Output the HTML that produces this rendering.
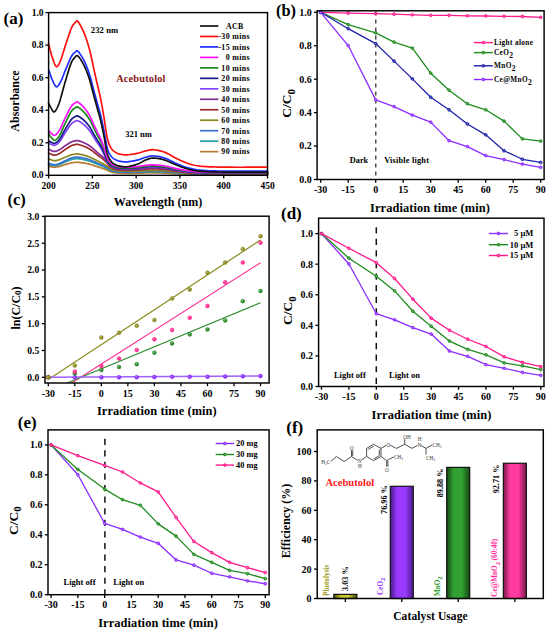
<!DOCTYPE html>
<html><head><meta charset="utf-8"><style>
html,body{margin:0;padding:0;background:#fff;}
svg{display:block;}
text{font-family:"Liberation Serif", serif;}
</style></head><body>
<svg width="550" height="631" viewBox="0 0 550 631">
<rect x="0" y="0" width="550" height="631" fill="#fff"/>
<polyline points="48.6,166.19 48.76,166.22 48.97,166.27 49.21,166.32 49.48,166.38 49.77,166.45 50.08,166.51 50.4,166.58 50.72,166.64 51.05,166.7 51.36,166.75 51.66,166.81 51.97,166.87 52.28,166.93 52.6,166.99 52.93,167.04 53.26,167.09 53.61,167.13 53.96,167.16 54.34,167.17 54.73,167.17 55.14,167.14 55.56,167.11 55.99,167.06 56.44,167.01 56.9,166.94 57.37,166.86 57.85,166.77 58.35,166.67 58.85,166.55 59.37,166.43 59.9,166.3 60.46,166.14 61.02,165.97 61.61,165.78 62.2,165.59 62.79,165.39 63.39,165.19 63.99,165 64.59,164.81 65.17,164.63 65.76,164.45 66.36,164.27 66.97,164.08 67.58,163.9 68.19,163.72 68.78,163.55 69.37,163.38 69.93,163.23 70.47,163.09 70.97,162.97 71.45,162.86 71.89,162.78 72.32,162.7 72.73,162.64 73.12,162.59 73.49,162.55 73.86,162.51 74.22,162.47 74.57,162.44 74.92,162.41 75.24,162.37 75.52,162.34 75.78,162.31 76.02,162.28 76.26,162.25 76.51,162.24 76.79,162.23 77.11,162.24 77.49,162.25 77.93,162.28 78.45,162.33 79.03,162.39 79.67,162.46 80.34,162.54 81.05,162.64 81.77,162.73 82.49,162.84 83.2,162.95 83.89,163.06 84.55,163.17 85.18,163.28 85.82,163.4 86.45,163.52 87.07,163.65 87.7,163.78 88.31,163.92 88.91,164.06 89.5,164.2 90.09,164.35 90.65,164.5 91.21,164.65 91.75,164.81 92.29,164.98 92.81,165.15 93.32,165.33 93.83,165.5 94.32,165.67 94.8,165.84 95.28,166 95.74,166.16 96.19,166.3 96.63,166.45 97.05,166.59 97.47,166.72 97.87,166.85 98.27,166.98 98.66,167.11 99.05,167.24 99.43,167.36 99.81,167.48 100.19,167.6 100.56,167.71 100.92,167.82 101.27,167.93 101.62,168.03 101.97,168.13 102.32,168.24 102.67,168.35 103.02,168.47 103.37,168.59 103.73,168.72 104.08,168.85 104.42,168.98 104.77,169.12 105.12,169.26 105.47,169.41 105.83,169.55 106.19,169.71 106.56,169.87 106.93,170.03 107.32,170.2 107.72,170.39 108.12,170.59 108.53,170.8 108.94,171.01 109.35,171.21 109.77,171.41 110.18,171.59 110.59,171.76 111,171.91 111.41,172.04 111.8,172.15 112.19,172.25 112.58,172.34 112.98,172.42 113.37,172.49 113.78,172.56 114.2,172.62 114.63,172.68 115.07,172.74 115.54,172.8 116.01,172.85 116.49,172.89 116.99,172.94 117.49,172.97 118.01,173.01 118.53,173.04 119.06,173.07 119.61,173.1 120.16,173.13 120.75,173.15 121.4,173.18 122.08,173.2 122.77,173.22 123.46,173.24 124.13,173.25 124.77,173.27 125.35,173.28 125.85,173.29 126.27,173.3 126.54,173.31 126.66,173.32 126.68,173.33 126.63,173.34 126.56,173.35 126.51,173.35 126.53,173.35 126.66,173.35 126.93,173.35 127.4,173.35 128.09,173.34 128.95,173.33 129.95,173.32 131.06,173.3 132.24,173.29 133.45,173.27 134.66,173.25 135.83,173.23 136.92,173.21 137.91,173.19 138.81,173.17 139.66,173.15 140.47,173.13 141.25,173.1 142.02,173.08 142.77,173.05 143.51,173.03 144.26,173.01 145.02,172.98 145.79,172.97 146.56,172.95 147.31,172.93 148.05,172.91 148.78,172.9 149.51,172.88 150.27,172.87 151.05,172.86 151.87,172.86 152.74,172.86 153.67,172.86 154.67,172.87 155.72,172.88 156.83,172.9 157.97,172.92 159.14,172.94 160.33,172.97 161.53,173 162.72,173.03 163.9,173.06 165.05,173.1 166.19,173.15 167.32,173.2 168.44,173.25 169.57,173.31 170.69,173.37 171.82,173.44 172.96,173.5 174.11,173.56 175.26,173.62 176.44,173.67 177.62,173.73 178.82,173.78 180.02,173.83 181.24,173.89 182.46,173.94 183.69,173.99 184.93,174.04 186.17,174.08 187.43,174.12 188.7,174.16 189.93,174.2 191.13,174.23 192.3,174.26 193.47,174.28 194.66,174.31 195.9,174.33 197.22,174.35 198.63,174.37 200.16,174.39 201.83,174.41 203.57,174.42 205.3,174.43 207.06,174.44 208.9,174.45 210.86,174.46 212.97,174.47 215.27,174.47 217.8,174.48 220.61,174.48 223.72,174.49 227.41,174.49 231.78,174.49 236.62,174.49 241.76,174.49 246.98,174.49 252.09,174.49 256.89,174.49 261.2,174.49 264.8,174.49 267.5,174.49" fill="none" stroke="#b87a30" stroke-width="1.7" stroke-linejoin="round" stroke-linecap="round"/>
<polyline points="48.6,164.56 48.76,164.6 48.97,164.64 49.21,164.69 49.48,164.76 49.77,164.82 50.08,164.89 50.4,164.95 50.72,165.02 51.05,165.08 51.36,165.13 51.66,165.18 51.97,165.24 52.28,165.31 52.6,165.37 52.93,165.43 53.26,165.48 53.61,165.53 53.96,165.55 54.34,165.56 54.73,165.54 55.14,165.5 55.56,165.45 55.99,165.38 56.44,165.3 56.9,165.21 57.37,165.1 57.85,164.98 58.35,164.84 58.85,164.68 59.37,164.51 59.9,164.32 60.46,164.1 61.02,163.86 61.61,163.6 62.2,163.33 62.79,163.05 63.39,162.78 63.99,162.5 64.59,162.24 65.17,161.98 65.76,161.74 66.36,161.48 66.97,161.22 67.58,160.97 68.19,160.71 68.78,160.47 69.37,160.24 69.93,160.02 70.47,159.83 70.97,159.66 71.45,159.52 71.89,159.4 72.32,159.29 72.73,159.21 73.12,159.13 73.49,159.07 73.86,159.02 74.22,158.97 74.57,158.92 74.92,158.88 75.24,158.83 75.52,158.78 75.78,158.74 76.02,158.7 76.26,158.67 76.51,158.65 76.79,158.64 77.11,158.65 77.49,158.67 77.93,158.7 78.45,158.76 79.03,158.83 79.67,158.92 80.34,159.02 81.05,159.14 81.77,159.26 82.49,159.39 83.2,159.52 83.89,159.66 84.55,159.8 85.18,159.94 85.82,160.08 86.45,160.24 87.07,160.39 87.7,160.56 88.31,160.73 88.91,160.9 89.5,161.07 90.09,161.25 90.65,161.44 91.21,161.63 91.75,161.83 92.29,162.04 92.81,162.25 93.32,162.46 93.83,162.68 94.32,162.89 94.8,163.1 95.28,163.3 95.74,163.49 96.19,163.67 96.63,163.85 97.05,164.02 97.47,164.19 97.87,164.35 98.27,164.51 98.66,164.67 99.05,164.82 99.43,164.98 99.81,165.13 100.19,165.27 100.56,165.41 100.92,165.55 101.27,165.67 101.62,165.8 101.97,165.93 102.32,166.06 102.67,166.2 103.02,166.34 103.37,166.49 103.73,166.65 104.08,166.82 104.42,166.98 104.77,167.15 105.12,167.32 105.47,167.5 105.83,167.69 106.19,167.87 106.56,168.07 106.93,168.27 107.32,168.49 107.72,168.72 108.12,168.97 108.53,169.22 108.94,169.48 109.35,169.73 109.77,169.98 110.18,170.2 110.59,170.41 111,170.59 111.41,170.75 111.8,170.89 112.19,171.01 112.58,171.12 112.98,171.22 113.37,171.31 113.78,171.39 114.2,171.47 114.63,171.55 115.07,171.62 115.54,171.69 116.01,171.75 116.49,171.81 116.99,171.86 117.49,171.91 118.01,171.95 118.53,171.99 119.06,172.03 119.61,172.06 120.16,172.1 120.75,172.13 121.4,172.16 122.08,172.19 122.77,172.21 123.46,172.23 124.13,172.25 124.77,172.27 125.35,172.29 125.85,172.3 126.27,172.32 126.54,172.33 126.66,172.34 126.68,172.35 126.63,172.36 126.56,172.37 126.51,172.38 126.53,172.38 126.66,172.38 126.93,172.38 127.4,172.37 128.09,172.36 128.95,172.35 129.95,172.33 131.06,172.31 132.24,172.29 133.45,172.27 134.66,172.24 135.83,172.21 136.92,172.19 137.91,172.16 138.81,172.14 139.66,172.11 140.47,172.08 141.25,172.04 142.02,172.01 142.77,171.98 143.51,171.94 144.26,171.92 145.02,171.89 145.79,171.86 146.56,171.84 147.31,171.82 148.05,171.79 148.78,171.77 149.51,171.75 150.27,171.74 151.05,171.72 151.87,171.72 152.74,171.71 153.67,171.72 154.67,171.73 155.72,171.75 156.83,171.77 157.97,171.8 159.14,171.83 160.33,171.87 161.53,171.91 162.72,171.96 163.9,172.01 165.05,172.06 166.19,172.12 167.32,172.19 168.44,172.27 169.57,172.35 170.69,172.44 171.82,172.53 172.96,172.61 174.11,172.7 175.26,172.78 176.44,172.86 177.62,172.93 178.82,173.01 180.02,173.08 181.24,173.16 182.46,173.23 183.69,173.3 184.93,173.37 186.17,173.43 187.43,173.49 188.7,173.54 189.93,173.59 191.13,173.64 192.3,173.68 193.47,173.72 194.66,173.75 195.9,173.78 197.22,173.81 198.63,173.84 200.16,173.86 201.83,173.88 203.57,173.91 205.3,173.92 207.06,173.94 208.9,173.95 210.86,173.96 212.97,173.97 215.27,173.98 217.8,173.99 220.61,173.99 223.72,174 227.41,174 231.78,174.01 236.62,174.01 241.76,174.01 246.98,174.01 252.09,174 256.89,174 261.2,174 264.8,174 267.5,174" fill="none" stroke="#20a0a0" stroke-width="1.7" stroke-linejoin="round" stroke-linecap="round"/>
<polyline points="48.6,163.42 48.76,163.47 48.97,163.53 49.21,163.6 49.48,163.68 49.77,163.77 50.08,163.85 50.4,163.94 50.72,164.03 51.05,164.11 51.36,164.18 51.66,164.25 51.97,164.33 52.28,164.41 52.6,164.49 52.93,164.57 53.26,164.64 53.61,164.69 53.96,164.73 54.34,164.74 54.73,164.72 55.14,164.69 55.56,164.63 55.99,164.56 56.44,164.47 56.9,164.36 57.37,164.24 57.85,164.1 58.35,163.94 58.85,163.77 59.37,163.58 59.9,163.36 60.46,163.12 61.02,162.85 61.61,162.56 62.2,162.25 62.79,161.94 63.39,161.63 63.99,161.33 64.59,161.03 65.17,160.75 65.76,160.47 66.36,160.19 66.97,159.9 67.58,159.61 68.19,159.33 68.78,159.05 69.37,158.79 69.93,158.55 70.47,158.34 70.97,158.15 71.45,157.99 71.89,157.85 72.32,157.74 72.73,157.64 73.12,157.56 73.49,157.49 73.86,157.43 74.22,157.37 74.57,157.32 74.92,157.27 75.24,157.22 75.52,157.16 75.78,157.12 76.02,157.08 76.26,157.04 76.51,157.02 76.79,157.01 77.11,157.02 77.49,157.04 77.93,157.08 78.45,157.14 79.03,157.22 79.67,157.32 80.34,157.43 81.05,157.55 81.77,157.69 82.49,157.83 83.2,157.98 83.89,158.12 84.55,158.28 85.18,158.43 85.82,158.59 86.45,158.76 87.07,158.93 87.7,159.11 88.31,159.29 88.91,159.48 89.5,159.67 90.09,159.87 90.65,160.07 91.21,160.28 91.75,160.5 92.29,160.73 92.81,160.96 93.32,161.19 93.83,161.43 94.32,161.66 94.8,161.89 95.28,162.11 95.74,162.32 96.19,162.52 96.63,162.71 97.05,162.9 97.47,163.08 97.87,163.26 98.27,163.44 98.66,163.61 99.05,163.78 99.43,163.95 99.81,164.11 100.19,164.27 100.56,164.42 100.92,164.57 101.27,164.71 101.62,164.85 101.97,164.99 102.32,165.14 102.67,165.29 103.02,165.44 103.37,165.61 103.73,165.78 104.08,165.96 104.42,166.14 104.77,166.33 105.12,166.52 105.47,166.71 105.83,166.91 106.19,167.12 106.56,167.33 106.93,167.56 107.32,167.79 107.72,168.05 108.12,168.32 108.53,168.6 108.94,168.88 109.35,169.16 109.77,169.42 110.18,169.67 110.59,169.9 111,170.1 111.41,170.27 111.8,170.43 112.19,170.56 112.58,170.68 112.98,170.79 113.37,170.89 113.78,170.97 114.2,171.06 114.63,171.14 115.07,171.22 115.54,171.3 116.01,171.37 116.49,171.43 116.99,171.49 117.49,171.54 118.01,171.59 118.53,171.63 119.06,171.67 119.61,171.71 120.16,171.75 120.75,171.78 121.4,171.82 122.08,171.85 122.77,171.87 123.46,171.9 124.13,171.92 124.77,171.94 125.35,171.95 125.85,171.97 126.27,171.99 126.54,172 126.66,172.01 126.68,172.03 126.63,172.04 126.56,172.05 126.51,172.05 126.53,172.06 126.66,172.06 126.93,172.05 127.4,172.05 128.09,172.03 128.95,172.02 129.95,172 131.06,171.97 132.24,171.94 133.45,171.91 134.66,171.88 135.83,171.85 136.92,171.82 137.91,171.79 138.81,171.75 139.66,171.72 140.47,171.68 141.25,171.63 142.02,171.59 142.77,171.55 143.51,171.51 144.26,171.48 145.02,171.44 145.79,171.41 146.56,171.38 147.31,171.35 148.05,171.32 148.78,171.3 149.51,171.27 150.27,171.25 151.05,171.24 151.87,171.23 152.74,171.23 153.67,171.23 154.67,171.25 155.72,171.27 156.83,171.3 157.97,171.33 159.14,171.37 160.33,171.41 161.53,171.46 162.72,171.52 163.9,171.58 165.05,171.65 166.19,171.72 167.32,171.81 168.44,171.9 169.57,172 170.69,172.11 171.82,172.21 172.96,172.32 174.11,172.42 175.26,172.52 176.44,172.62 177.62,172.71 178.82,172.8 180.02,172.89 181.24,172.98 182.46,173.06 183.69,173.15 184.93,173.23 186.17,173.31 187.43,173.38 188.7,173.45 189.93,173.5 191.13,173.56 192.3,173.61 193.47,173.65 194.66,173.7 195.9,173.73 197.22,173.77 198.63,173.8 200.16,173.83 201.83,173.86 203.57,173.89 205.3,173.91 207.06,173.93 208.9,173.94 210.86,173.96 212.97,173.97 215.27,173.98 217.8,173.98 220.61,173.99 223.72,174 227.41,174 231.78,174.01 236.62,174.01 241.76,174.01 246.98,174.01 252.09,174.01 256.89,174 261.2,174 264.8,174 267.5,174" fill="none" stroke="#3a70d0" stroke-width="1.7" stroke-linejoin="round" stroke-linecap="round"/>
<polyline points="48.6,158.7 48.76,158.77 48.97,158.86 49.21,158.97 49.48,159.09 49.77,159.22 50.08,159.35 50.4,159.48 50.72,159.61 51.05,159.73 51.36,159.84 51.66,159.94 51.97,160.05 52.28,160.16 52.6,160.27 52.93,160.38 53.26,160.48 53.61,160.55 53.96,160.61 54.34,160.65 54.73,160.66 55.14,160.64 55.56,160.6 55.99,160.54 56.44,160.46 56.9,160.36 57.37,160.25 57.85,160.12 58.35,159.98 58.85,159.82 59.37,159.66 59.9,159.47 60.46,159.25 61.02,159.02 61.61,158.77 62.2,158.5 62.79,158.23 63.39,157.96 63.99,157.69 64.59,157.43 65.17,157.19 65.76,156.95 66.36,156.7 66.97,156.45 67.58,156.19 68.19,155.95 68.78,155.71 69.37,155.48 69.93,155.27 70.47,155.09 70.97,154.92 71.45,154.78 71.89,154.66 72.32,154.56 72.73,154.48 73.12,154.41 73.49,154.34 73.86,154.29 74.22,154.24 74.57,154.2 74.92,154.15 75.24,154.11 75.52,154.06 75.78,154.01 76.02,153.97 76.26,153.94 76.51,153.91 76.79,153.9 77.11,153.91 77.49,153.94 77.93,153.99 78.45,154.06 79.03,154.15 79.67,154.26 80.34,154.39 81.05,154.54 81.77,154.69 82.49,154.85 83.2,155.02 83.89,155.19 84.55,155.37 85.18,155.54 85.82,155.73 86.45,155.92 87.07,156.12 87.7,156.33 88.31,156.54 88.91,156.75 89.5,156.98 90.09,157.2 90.65,157.44 91.21,157.68 91.75,157.93 92.29,158.19 92.81,158.46 93.32,158.73 93.83,159 94.32,159.27 94.8,159.53 95.28,159.78 95.74,160.02 96.19,160.25 96.63,160.48 97.05,160.69 97.47,160.9 97.87,161.11 98.27,161.31 98.66,161.51 99.05,161.71 99.43,161.9 99.81,162.09 100.19,162.28 100.56,162.45 100.92,162.62 101.27,162.78 101.62,162.94 101.97,163.11 102.32,163.27 102.67,163.44 103.02,163.62 103.37,163.82 103.73,164.02 104.08,164.22 104.42,164.43 104.77,164.64 105.12,164.86 105.47,165.09 105.83,165.32 106.19,165.56 106.56,165.8 106.93,166.06 107.32,166.33 107.72,166.63 108.12,166.94 108.53,167.26 108.94,167.58 109.35,167.9 109.77,168.21 110.18,168.5 110.59,168.76 111,168.99 111.41,169.19 111.8,169.37 112.19,169.52 112.58,169.66 112.98,169.78 113.37,169.89 113.78,170 114.2,170.1 114.63,170.19 115.07,170.28 115.54,170.37 116.01,170.45 116.49,170.53 116.99,170.59 117.49,170.65 118.01,170.7 118.53,170.75 119.06,170.8 119.61,170.84 120.16,170.89 120.75,170.93 121.4,170.97 122.08,171 122.77,171.03 123.46,171.06 124.13,171.08 124.77,171.11 125.35,171.13 125.85,171.15 126.27,171.16 126.54,171.18 126.66,171.2 126.68,171.21 126.63,171.22 126.56,171.23 126.51,171.24 126.53,171.24 126.66,171.24 126.93,171.24 127.4,171.23 128.09,171.22 128.95,171.2 129.95,171.18 131.06,171.16 132.24,171.13 133.45,171.1 134.66,171.07 135.83,171.04 136.92,171 137.91,170.97 138.81,170.94 139.66,170.9 140.47,170.86 141.25,170.82 142.02,170.78 142.77,170.74 143.51,170.7 144.26,170.66 145.02,170.63 145.79,170.6 146.56,170.57 147.31,170.54 148.05,170.51 148.78,170.48 149.51,170.45 150.27,170.43 151.05,170.42 151.87,170.41 152.74,170.41 153.67,170.42 154.67,170.44 155.72,170.46 156.83,170.5 157.97,170.53 159.14,170.58 160.33,170.63 161.53,170.69 162.72,170.76 163.9,170.83 165.05,170.91 166.19,171 167.32,171.1 168.44,171.21 169.57,171.32 170.69,171.45 171.82,171.57 172.96,171.7 174.11,171.82 175.26,171.94 176.44,172.05 177.62,172.15 178.82,172.26 180.02,172.37 181.24,172.47 182.46,172.57 183.69,172.67 184.93,172.77 186.17,172.86 187.43,172.95 188.7,173.02 189.93,173.09 191.13,173.16 192.3,173.21 193.47,173.27 194.66,173.32 195.9,173.36 197.22,173.4 198.63,173.44 200.16,173.48 201.83,173.51 203.57,173.54 205.3,173.57 207.06,173.59 208.9,173.61 210.86,173.62 212.97,173.64 215.27,173.65 217.8,173.66 220.61,173.66 223.72,173.67 227.41,173.68 231.78,173.68 236.62,173.68 241.76,173.68 246.98,173.68 252.09,173.68 256.89,173.68 261.2,173.68 264.8,173.67 267.5,173.67" fill="none" stroke="#8a8a1a" stroke-width="1.7" stroke-linejoin="round" stroke-linecap="round"/>
<polyline points="48.6,153.01 48.76,153.08 48.97,153.18 49.21,153.3 49.48,153.43 49.77,153.57 50.08,153.71 50.4,153.86 50.72,153.99 51.05,154.12 51.36,154.24 51.66,154.35 51.97,154.48 52.28,154.61 52.6,154.74 52.93,154.86 53.26,154.97 53.61,155.05 53.96,155.11 54.34,155.14 54.73,155.13 55.14,155.08 55.56,155 55.99,154.9 56.44,154.77 56.9,154.62 57.37,154.45 57.85,154.25 58.35,154.03 58.85,153.78 59.37,153.51 59.9,153.21 60.46,152.87 61.02,152.49 61.61,152.08 62.2,151.66 62.79,151.22 63.39,150.78 63.99,150.35 64.59,149.94 65.17,149.54 65.76,149.15 66.36,148.75 66.97,148.35 67.58,147.94 68.19,147.54 68.78,147.16 69.37,146.8 69.93,146.46 70.47,146.16 70.97,145.89 71.45,145.66 71.89,145.47 72.32,145.31 72.73,145.18 73.12,145.06 73.49,144.96 73.86,144.88 74.22,144.8 74.57,144.73 74.92,144.66 75.24,144.58 75.52,144.5 75.78,144.43 76.02,144.37 76.26,144.31 76.52,144.28 76.8,144.26 77.12,144.27 77.49,144.31 77.93,144.39 78.45,144.5 79.02,144.64 79.65,144.81 80.32,145 81.01,145.22 81.72,145.45 82.43,145.69 83.14,145.95 83.82,146.21 84.47,146.47 85.1,146.74 85.73,147.02 86.35,147.31 86.97,147.61 87.58,147.92 88.19,148.24 88.78,148.57 89.37,148.9 89.94,149.24 90.5,149.59 91.05,149.96 91.59,150.34 92.12,150.73 92.64,151.14 93.14,151.55 93.64,151.96 94.13,152.36 94.61,152.75 95.08,153.14 95.53,153.5 95.98,153.84 96.41,154.18 96.83,154.51 97.24,154.83 97.64,155.14 98.03,155.45 98.42,155.75 98.8,156.04 99.18,156.33 99.56,156.62 99.93,156.9 100.29,157.16 100.65,157.42 101,157.66 101.35,157.91 101.69,158.15 102.04,158.4 102.38,158.66 102.73,158.94 103.08,159.23 103.43,159.53 103.77,159.84 104.12,160.15 104.46,160.47 104.81,160.8 105.15,161.14 105.5,161.49 105.86,161.85 106.22,162.23 106.6,162.61 106.98,163.02 107.37,163.47 107.77,163.94 108.17,164.42 108.58,164.91 108.99,165.39 109.4,165.86 109.81,166.29 110.22,166.69 110.62,167.03 111.02,167.33 111.41,167.6 111.79,167.84 112.18,168.04 112.57,168.23 112.96,168.4 113.36,168.56 113.77,168.7 114.2,168.85 114.64,168.99 115.1,169.12 115.57,169.24 116.05,169.35 116.53,169.45 117.03,169.54 117.54,169.62 118.06,169.69 118.59,169.76 119.12,169.83 119.67,169.9 120.25,169.96 120.88,170.02 121.54,170.07 122.22,170.12 122.9,170.16 123.56,170.19 124.18,170.23 124.76,170.26 125.27,170.29 125.71,170.31 126.01,170.34 126.18,170.37 126.26,170.39 126.27,170.41 126.28,170.43 126.3,170.44 126.38,170.44 126.57,170.44 126.9,170.44 127.4,170.42 128.11,170.39 128.98,170.36 129.99,170.32 131.1,170.27 132.27,170.21 133.47,170.15 134.67,170.09 135.84,170.03 136.93,169.96 137.91,169.9 138.81,169.83 139.66,169.76 140.47,169.68 141.25,169.6 142.02,169.51 142.77,169.43 143.51,169.35 144.26,169.28 145.02,169.21 145.79,169.15 146.56,169.09 147.31,169.04 148.05,168.98 148.78,168.93 149.51,168.88 150.27,168.84 151.05,168.81 151.87,168.79 152.74,168.78 153.67,168.79 154.67,168.82 155.72,168.85 156.83,168.9 157.97,168.96 159.14,169.03 160.33,169.11 161.53,169.2 162.72,169.3 163.9,169.41 165.05,169.52 166.19,169.66 167.32,169.81 168.44,169.97 169.57,170.15 170.69,170.33 171.82,170.52 172.96,170.71 174.11,170.89 175.26,171.07 176.44,171.23 177.62,171.39 178.82,171.55 180.02,171.71 181.24,171.87 182.46,172.03 183.69,172.18 184.93,172.32 186.17,172.45 187.43,172.58 188.7,172.7 189.93,172.8 191.13,172.9 192.3,172.99 193.47,173.07 194.66,173.14 195.9,173.21 197.22,173.27 198.63,173.33 200.16,173.38 201.83,173.43 203.57,173.47 205.3,173.51 207.06,173.55 208.9,173.57 210.86,173.6 212.97,173.62 215.27,173.63 217.8,173.65 220.61,173.66 223.72,173.67 227.41,173.68 231.78,173.69 236.62,173.69 241.76,173.69 246.98,173.69 252.09,173.68 256.89,173.68 261.2,173.68 264.8,173.67 267.5,173.67" fill="none" stroke="#9a2a2a" stroke-width="1.7" stroke-linejoin="round" stroke-linecap="round"/>
<polyline points="48.6,149.27 48.76,149.34 48.97,149.44 49.21,149.56 49.48,149.69 49.77,149.83 50.08,149.97 50.4,150.11 50.72,150.25 51.05,150.38 51.36,150.49 51.66,150.61 51.97,150.73 52.28,150.86 52.6,150.99 52.93,151.12 53.26,151.22 53.61,151.31 53.96,151.37 54.34,151.4 54.73,151.38 55.14,151.33 55.56,151.26 55.99,151.16 56.44,151.03 56.9,150.88 57.37,150.71 57.85,150.51 58.35,150.29 58.85,150.04 59.37,149.77 59.9,149.47 60.46,149.12 61.02,148.74 61.61,148.34 62.2,147.91 62.79,147.48 63.39,147.04 63.99,146.61 64.59,146.19 65.17,145.8 65.76,145.41 66.36,145.01 66.97,144.6 67.58,144.2 68.19,143.8 68.78,143.42 69.37,143.06 69.93,142.72 70.47,142.41 70.97,142.15 71.45,141.92 71.89,141.73 72.32,141.57 72.73,141.43 73.12,141.32 73.49,141.22 73.86,141.14 74.22,141.06 74.57,140.99 74.92,140.91 75.24,140.84 75.52,140.76 75.78,140.68 76.02,140.61 76.26,140.56 76.52,140.52 76.8,140.5 77.12,140.52 77.49,140.56 77.93,140.64 78.45,140.77 79.02,140.92 79.65,141.11 80.32,141.33 81.01,141.57 81.72,141.83 82.43,142.1 83.14,142.38 83.82,142.67 84.47,142.96 85.1,143.26 85.73,143.57 86.35,143.89 86.97,144.23 87.58,144.57 88.19,144.93 88.78,145.29 89.37,145.67 89.94,146.05 90.5,146.44 91.05,146.84 91.59,147.26 92.12,147.7 92.64,148.15 93.14,148.61 93.64,149.06 94.13,149.51 94.61,149.95 95.08,150.38 95.53,150.78 95.98,151.17 96.41,151.54 96.83,151.91 97.24,152.26 97.64,152.61 98.03,152.95 98.42,153.28 98.8,153.61 99.18,153.94 99.56,154.26 99.93,154.57 100.29,154.86 100.65,155.14 101,155.41 101.35,155.69 101.69,155.96 102.04,156.24 102.38,156.53 102.73,156.83 103.08,157.15 103.43,157.49 103.77,157.83 104.12,158.18 104.46,158.54 104.81,158.91 105.15,159.29 105.5,159.68 105.86,160.08 106.22,160.49 106.6,160.92 106.98,161.38 107.37,161.87 107.77,162.4 108.17,162.94 108.58,163.48 108.99,164.01 109.4,164.53 109.81,165.01 110.22,165.45 110.62,165.84 111.02,166.17 111.41,166.47 111.79,166.73 112.18,166.96 112.57,167.17 112.96,167.36 113.36,167.53 113.77,167.7 114.2,167.85 114.64,168.01 115.1,168.16 115.57,168.3 116.05,168.42 116.53,168.53 117.03,168.63 117.54,168.72 118.06,168.8 118.59,168.88 119.12,168.95 119.67,169.03 120.25,169.1 120.88,169.16 121.54,169.22 122.22,169.27 122.9,169.31 123.56,169.36 124.18,169.39 124.76,169.43 125.27,169.46 125.71,169.49 126.01,169.52 126.18,169.55 126.26,169.57 126.27,169.59 126.28,169.61 126.3,169.62 126.38,169.63 126.57,169.63 126.9,169.62 127.4,169.61 128.11,169.58 128.98,169.55 129.99,169.5 131.1,169.45 132.27,169.4 133.47,169.34 134.67,169.28 135.84,169.21 136.93,169.15 137.91,169.08 138.81,169.02 139.66,168.94 140.47,168.86 141.25,168.78 142.02,168.7 142.77,168.62 143.51,168.54 144.26,168.46 145.02,168.4 145.79,168.34 146.56,168.28 147.31,168.22 148.05,168.16 148.78,168.11 149.51,168.06 150.27,168.02 151.05,167.99 151.87,167.97 152.74,167.97 153.67,167.98 154.67,168.01 155.72,168.05 156.83,168.1 157.97,168.17 159.14,168.24 160.33,168.33 161.53,168.43 162.72,168.54 163.9,168.65 165.05,168.78 166.19,168.93 167.32,169.1 168.44,169.28 169.57,169.47 170.69,169.67 171.82,169.88 172.96,170.09 174.11,170.29 175.26,170.48 176.44,170.66 177.62,170.84 178.82,171.02 180.02,171.19 181.24,171.37 182.46,171.54 183.69,171.7 184.93,171.86 186.17,172.01 187.43,172.15 188.7,172.27 189.93,172.39 191.13,172.49 192.3,172.59 193.47,172.68 194.66,172.76 195.9,172.83 197.22,172.9 198.63,172.97 200.16,173.02 201.83,173.08 203.57,173.13 205.3,173.17 207.06,173.21 208.9,173.24 210.86,173.26 212.97,173.29 215.27,173.3 217.8,173.32 220.61,173.33 223.72,173.35 227.41,173.36 231.78,173.36 236.62,173.37 241.76,173.37 246.98,173.36 252.09,173.36 256.89,173.36 261.2,173.35 264.8,173.35 267.5,173.35" fill="none" stroke="#852a95" stroke-width="1.7" stroke-linejoin="round" stroke-linecap="round"/>
<polyline points="48.6,143.25 48.77,143.32 48.98,143.41 49.23,143.51 49.51,143.63 49.82,143.76 50.14,143.9 50.48,144.03 50.81,144.16 51.15,144.27 51.48,144.38 51.8,144.5 52.12,144.64 52.45,144.79 52.79,144.95 53.13,145.09 53.48,145.21 53.84,145.29 54.21,145.33 54.59,145.3 54.99,145.2 55.4,145.04 55.82,144.84 56.25,144.6 56.69,144.32 57.15,143.99 57.61,143.61 58.09,143.17 58.57,142.69 59.07,142.14 59.58,141.54 60.11,140.85 60.65,140.07 61.22,139.2 61.79,138.28 62.38,137.31 62.97,136.33 63.56,135.33 64.15,134.35 64.74,133.41 65.32,132.51 65.9,131.63 66.49,130.72 67.09,129.79 67.7,128.87 68.3,127.97 68.89,127.1 69.46,126.27 70.02,125.51 70.55,124.82 71.05,124.21 71.52,123.7 71.96,123.26 72.38,122.9 72.79,122.59 73.17,122.33 73.54,122.11 73.91,121.91 74.26,121.74 74.61,121.57 74.95,121.41 75.27,121.24 75.56,121.07 75.82,120.92 76.07,120.79 76.31,120.69 76.57,120.61 76.85,120.58 77.16,120.6 77.52,120.67 77.93,120.8 78.41,120.99 78.94,121.25 79.52,121.56 80.13,121.92 80.76,122.32 81.4,122.75 82.05,123.2 82.69,123.67 83.31,124.15 83.9,124.64 84.47,125.13 85.05,125.64 85.62,126.18 86.18,126.73 86.74,127.31 87.29,127.9 87.84,128.5 88.37,129.12 88.9,129.75 89.41,130.39 89.91,131.06 90.4,131.77 90.88,132.49 91.36,133.24 91.82,133.99 92.27,134.75 92.72,135.49 93.16,136.22 93.58,136.93 94,137.59 94.41,138.23 94.8,138.85 95.18,139.46 95.56,140.05 95.92,140.62 96.28,141.19 96.63,141.74 96.98,142.29 97.33,142.82 97.67,143.35 98.01,143.87 98.35,144.35 98.67,144.82 98.99,145.27 99.31,145.72 99.62,146.18 99.94,146.64 100.25,147.12 100.57,147.62 100.89,148.15 101.21,148.71 101.52,149.28 101.84,149.86 102.15,150.45 102.47,151.06 102.78,151.69 103.1,152.33 103.43,153 103.76,153.68 104.1,154.39 104.45,155.15 104.81,155.98 105.17,156.84 105.54,157.74 105.91,158.64 106.28,159.52 106.66,160.38 107.03,161.18 107.4,161.91 107.77,162.55 108.14,163.11 108.49,163.59 108.85,164.03 109.2,164.41 109.55,164.76 109.91,165.07 110.28,165.36 110.65,165.63 111.04,165.89 111.45,166.15 111.86,166.4 112.29,166.63 112.73,166.83 113.17,167.01 113.63,167.17 114.09,167.32 114.56,167.46 115.05,167.59 115.54,167.71 116.04,167.83 116.55,167.95 117.08,168.05 117.61,168.15 118.16,168.23 118.71,168.31 119.27,168.38 119.84,168.44 120.41,168.5 120.98,168.55 121.55,168.6 122.1,168.65 122.62,168.69 123.13,168.73 123.64,168.76 124.16,168.78 124.71,168.8 125.29,168.81 125.93,168.82 126.63,168.81 127.4,168.79 128.28,168.76 129.25,168.72 130.3,168.67 131.4,168.61 132.53,168.55 133.67,168.48 134.81,168.4 135.9,168.32 136.95,168.24 137.91,168.17 138.81,168.09 139.66,168 140.47,167.9 141.25,167.81 142.02,167.71 142.77,167.61 143.51,167.51 144.26,167.42 145.02,167.34 145.79,167.27 146.56,167.2 147.31,167.13 148.05,167.06 148.78,167 149.51,166.94 150.27,166.89 151.05,166.85 151.87,166.83 152.74,166.83 153.67,166.84 154.67,166.87 155.72,166.92 156.83,166.98 157.97,167.05 159.14,167.14 160.33,167.24 161.53,167.36 162.72,167.48 163.9,167.62 165.05,167.77 166.19,167.93 167.32,168.13 168.44,168.34 169.57,168.56 170.69,168.79 171.82,169.03 172.96,169.27 174.11,169.5 175.26,169.72 176.44,169.93 177.62,170.13 178.82,170.34 180.02,170.54 181.24,170.74 182.46,170.94 183.69,171.13 184.93,171.31 186.17,171.48 187.43,171.64 188.7,171.79 189.93,171.92 191.13,172.04 192.3,172.15 193.47,172.25 194.66,172.35 195.9,172.43 197.22,172.51 198.63,172.58 200.16,172.65 201.83,172.71 203.57,172.77 205.3,172.82 207.06,172.86 208.9,172.9 210.86,172.93 212.97,172.95 215.27,172.97 217.8,172.99 220.61,173.01 223.72,173.02 227.41,173.03 231.78,173.04 236.62,173.04 241.76,173.04 246.98,173.04 252.09,173.04 256.89,173.03 261.2,173.03 264.8,173.02 267.5,173.02" fill="none" stroke="#8040ff" stroke-width="1.7" stroke-linejoin="round" stroke-linecap="round"/>
<polyline points="48.6,140.97 48.77,141.05 48.98,141.16 49.23,141.28 49.51,141.42 49.82,141.57 50.14,141.73 50.48,141.88 50.81,142.03 51.15,142.17 51.48,142.29 51.8,142.42 52.12,142.59 52.45,142.76 52.79,142.94 53.13,143.11 53.48,143.25 53.84,143.34 54.21,143.38 54.59,143.36 54.99,143.25 55.4,143.07 55.82,142.85 56.25,142.58 56.69,142.27 57.15,141.9 57.61,141.47 58.09,140.99 58.57,140.45 59.07,139.84 59.58,139.17 60.11,138.41 60.65,137.53 61.22,136.57 61.79,135.54 62.38,134.47 62.97,133.37 63.56,132.26 64.15,131.17 64.74,130.12 65.32,129.12 65.9,128.13 66.49,127.12 67.09,126.1 67.7,125.07 68.3,124.07 68.89,123.1 69.46,122.18 70.02,121.32 70.55,120.55 71.05,119.88 71.52,119.31 71.96,118.83 72.38,118.42 72.79,118.07 73.17,117.78 73.54,117.54 73.91,117.32 74.26,117.13 74.61,116.94 74.95,116.76 75.27,116.57 75.56,116.39 75.82,116.22 76.07,116.07 76.31,115.96 76.57,115.88 76.85,115.85 77.16,115.86 77.52,115.94 77.93,116.08 78.41,116.29 78.94,116.57 79.52,116.91 80.13,117.3 80.76,117.74 81.4,118.21 82.05,118.7 82.69,119.22 83.31,119.74 83.9,120.27 84.47,120.81 85.05,121.37 85.62,121.95 86.18,122.56 86.74,123.18 87.29,123.83 87.84,124.49 88.37,125.16 88.9,125.85 89.41,126.56 89.91,127.28 90.4,128.05 90.88,128.85 91.36,129.66 91.82,130.48 92.27,131.31 92.72,132.12 93.16,132.92 93.58,133.68 94,134.41 94.41,135.11 94.8,135.79 95.18,136.45 95.56,137.09 95.92,137.72 96.28,138.34 96.63,138.94 96.98,139.54 97.33,140.12 97.67,140.7 98.01,141.26 98.35,141.79 98.67,142.3 98.99,142.8 99.31,143.29 99.62,143.78 99.94,144.28 100.25,144.81 100.57,145.36 100.89,145.94 101.21,146.55 101.52,147.17 101.84,147.8 102.15,148.45 102.47,149.12 102.78,149.8 103.1,150.5 103.43,151.23 103.76,151.98 104.1,152.75 104.45,153.58 104.81,154.48 105.17,155.42 105.54,156.4 105.91,157.38 106.28,158.35 106.66,159.28 107.03,160.16 107.4,160.96 107.77,161.66 108.14,162.26 108.49,162.79 108.85,163.27 109.2,163.69 109.55,164.06 109.91,164.4 110.28,164.72 110.65,165.01 111.04,165.3 111.45,165.59 111.86,165.86 112.29,166.1 112.73,166.32 113.17,166.52 113.63,166.7 114.09,166.86 114.56,167.01 115.05,167.15 115.54,167.29 116.04,167.42 116.55,167.55 117.08,167.66 117.61,167.76 118.16,167.86 118.71,167.94 119.27,168.01 119.84,168.08 120.41,168.15 120.98,168.2 121.55,168.26 122.1,168.31 122.62,168.35 123.13,168.39 123.64,168.43 124.16,168.46 124.71,168.48 125.29,168.49 125.93,168.49 126.63,168.48 127.4,168.47 128.28,168.44 129.25,168.39 130.3,168.34 131.4,168.27 132.53,168.2 133.67,168.12 134.81,168.04 135.9,167.96 136.95,167.87 137.91,167.79 138.81,167.7 139.66,167.61 140.47,167.5 141.25,167.4 142.02,167.29 142.77,167.18 143.51,167.08 144.26,166.98 145.02,166.89 145.79,166.82 146.56,166.74 147.31,166.67 148.05,166.59 148.78,166.52 149.51,166.46 150.27,166.41 151.05,166.37 151.87,166.34 152.74,166.34 153.67,166.35 154.67,166.38 155.72,166.43 156.83,166.5 157.97,166.58 159.14,166.67 160.33,166.77 161.53,166.89 162.72,167.03 163.9,167.17 165.05,167.33 166.19,167.5 167.32,167.71 168.44,167.93 169.57,168.16 170.69,168.41 171.82,168.66 172.96,168.91 174.11,169.15 175.26,169.39 176.44,169.61 177.62,169.82 178.82,170.03 180.02,170.25 181.24,170.46 182.46,170.66 183.69,170.86 184.93,171.05 186.17,171.24 187.43,171.4 188.7,171.56 189.93,171.7 191.13,171.83 192.3,171.94 193.47,172.05 194.66,172.15 195.9,172.24 197.22,172.32 198.63,172.4 200.16,172.47 201.83,172.53 203.57,172.59 205.3,172.65 207.06,172.69 208.9,172.73 210.86,172.76 212.97,172.78 215.27,172.81 217.8,172.83 220.61,172.84 223.72,172.86 227.41,172.87 231.78,172.88 236.62,172.88 241.76,172.88 246.98,172.88 252.09,172.88 256.89,172.87 261.2,172.86 264.8,172.86 267.5,172.86" fill="none" stroke="#1a1a8a" stroke-width="1.7" stroke-linejoin="round" stroke-linecap="round"/>
<polyline points="48.6,133.81 48.77,134.04 48.98,134.34 49.23,134.7 49.51,135.1 49.82,135.53 50.14,135.97 50.48,136.41 50.81,136.84 51.15,137.23 51.48,137.59 51.8,137.94 52.12,138.32 52.45,138.73 52.79,139.12 53.13,139.5 53.48,139.83 53.84,140.1 54.21,140.28 54.59,140.36 54.99,140.32 55.4,140.17 55.82,139.93 56.25,139.62 56.69,139.23 57.15,138.77 57.61,138.23 58.09,137.61 58.57,136.93 59.07,136.17 59.58,135.34 60.11,134.4 60.65,133.34 61.22,132.16 61.79,130.91 62.38,129.59 62.97,128.25 63.56,126.9 64.15,125.57 64.74,124.28 65.32,123.06 65.9,121.86 66.49,120.62 67.09,119.37 67.7,118.12 68.3,116.89 68.89,115.7 69.46,114.58 70.02,113.54 70.55,112.6 71.05,111.78 71.52,111.08 71.96,110.49 72.38,109.99 72.79,109.57 73.17,109.21 73.54,108.91 73.91,108.65 74.26,108.41 74.61,108.19 74.95,107.96 75.27,107.73 75.56,107.51 75.82,107.31 76.07,107.14 76.31,107 76.57,106.91 76.85,106.86 77.16,106.88 77.52,106.97 77.93,107.13 78.41,107.37 78.94,107.7 79.52,108.09 80.13,108.55 80.76,109.05 81.4,109.6 82.05,110.18 82.69,110.78 83.31,111.39 83.9,112 84.47,112.62 85.05,113.27 85.62,113.95 86.18,114.65 86.74,115.38 87.29,116.13 87.84,116.9 88.37,117.68 88.9,118.48 89.41,119.3 89.91,120.15 90.4,121.04 90.88,121.96 91.36,122.91 91.82,123.86 92.27,124.82 92.72,125.76 93.16,126.69 93.58,127.58 94,128.43 94.41,129.24 94.8,130.02 95.18,130.79 95.56,131.54 95.92,132.27 96.28,132.98 96.63,133.68 96.98,134.37 97.33,135.06 97.67,135.73 98.01,136.38 98.35,136.99 98.67,137.59 98.99,138.16 99.31,138.73 99.62,139.31 99.94,139.89 100.25,140.5 100.57,141.14 100.89,141.81 101.21,142.52 101.52,143.24 101.84,143.98 102.15,144.73 102.47,145.5 102.78,146.3 103.1,147.11 103.43,147.96 103.76,148.83 104.1,149.72 104.45,150.69 104.81,151.73 105.17,152.83 105.54,153.96 105.91,155.1 106.28,156.23 106.66,157.31 107.03,158.33 107.4,159.26 107.77,160.07 108.14,160.77 108.49,161.39 108.85,161.94 109.2,162.43 109.55,162.86 109.91,163.26 110.28,163.62 110.65,163.97 111.04,164.3 111.45,164.63 111.86,164.95 112.29,165.23 112.73,165.49 113.17,165.71 113.63,165.92 114.09,166.11 114.56,166.28 115.05,166.45 115.54,166.61 116.04,166.76 116.55,166.91 117.08,167.04 117.61,167.16 118.16,167.27 118.71,167.37 119.27,167.45 119.84,167.53 120.41,167.61 120.98,167.67 121.55,167.74 122.1,167.79 122.62,167.85 123.13,167.89 123.64,167.93 124.16,167.96 124.71,167.98 125.29,168 125.93,168 126.63,167.99 127.4,167.98 128.28,167.95 129.25,167.91 130.3,167.85 131.4,167.79 132.53,167.72 133.67,167.64 134.81,167.56 135.9,167.47 136.95,167.39 137.91,167.3 138.81,167.21 139.66,167.12 140.47,167.02 141.25,166.91 142.02,166.8 142.77,166.7 143.51,166.59 144.26,166.5 145.02,166.41 145.79,166.33 146.56,166.25 147.31,166.18 148.05,166.1 148.78,166.03 149.51,165.97 150.27,165.92 151.05,165.88 151.87,165.85 152.74,165.85 153.67,165.86 154.67,165.9 155.72,165.95 156.83,166.02 157.97,166.1 159.14,166.2 160.33,166.31 161.53,166.43 162.72,166.57 163.9,166.72 165.05,166.89 166.19,167.07 167.32,167.28 168.44,167.52 169.57,167.76 170.69,168.02 171.82,168.28 172.96,168.54 174.11,168.8 175.26,169.05 176.44,169.28 177.62,169.5 178.82,169.73 180.02,169.95 181.24,170.17 182.46,170.39 183.69,170.6 184.93,170.8 186.17,170.99 187.43,171.17 188.7,171.33 189.93,171.48 191.13,171.61 192.3,171.73 193.47,171.85 194.66,171.95 195.9,172.04 197.22,172.13 198.63,172.21 200.16,172.28 201.83,172.36 203.57,172.42 205.3,172.47 207.06,172.52 208.9,172.56 210.86,172.59 212.97,172.62 215.27,172.64 217.8,172.66 220.61,172.68 223.72,172.7 227.41,172.71 231.78,172.72 236.62,172.72 241.76,172.72 246.98,172.72 252.09,172.71 256.89,172.71 261.2,172.7 264.8,172.7 267.5,172.7" fill="none" stroke="#158a15" stroke-width="1.7" stroke-linejoin="round" stroke-linecap="round"/>
<polyline points="48.6,130.56 48.76,130.72 48.97,130.94 49.21,131.2 49.48,131.49 49.77,131.8 50.08,132.12 50.4,132.44 50.72,132.75 51.05,133.04 51.36,133.29 51.66,133.55 51.97,133.85 52.28,134.16 52.6,134.47 52.93,134.77 53.26,135.02 53.61,135.21 53.96,135.34 54.34,135.36 54.73,135.28 55.14,135.09 55.56,134.85 55.99,134.53 56.44,134.14 56.9,133.69 57.37,133.16 57.85,132.56 58.35,131.89 58.85,131.14 59.37,130.32 59.9,129.39 60.46,128.33 61.02,127.16 61.61,125.91 62.2,124.6 62.79,123.27 63.39,121.92 63.99,120.6 64.59,119.32 65.17,118.1 65.76,116.9 66.36,115.67 66.97,114.43 67.58,113.18 68.19,111.96 68.78,110.78 69.37,109.66 69.93,108.63 70.47,107.69 70.97,106.87 71.45,106.18 71.89,105.59 72.32,105.09 72.73,104.67 73.12,104.32 73.49,104.02 73.86,103.76 74.22,103.52 74.57,103.3 74.92,103.07 75.24,102.84 75.53,102.62 75.8,102.42 76.05,102.24 76.3,102.1 76.56,102 76.84,101.96 77.16,101.98 77.52,102.07 77.93,102.25 78.41,102.51 78.94,102.86 79.52,103.28 80.13,103.77 80.76,104.31 81.4,104.89 82.05,105.5 82.69,106.14 83.31,106.79 83.9,107.44 84.47,108.11 85.05,108.8 85.62,109.53 86.18,110.28 86.74,111.05 87.29,111.85 87.84,112.67 88.37,113.51 88.9,114.36 89.41,115.23 89.91,116.13 90.4,117.09 90.88,118.07 91.36,119.08 91.82,120.1 92.27,121.12 92.72,122.13 93.16,123.11 93.58,124.07 94,124.97 94.41,125.83 94.8,126.67 95.18,127.49 95.56,128.29 95.92,129.07 96.28,129.83 96.63,130.58 96.98,131.32 97.33,132.04 97.67,132.76 98.01,133.45 98.35,134.11 98.67,134.74 98.99,135.36 99.31,135.96 99.62,136.58 99.94,137.2 100.25,137.85 100.57,138.53 100.89,139.25 101.21,140 101.52,140.77 101.84,141.56 102.15,142.36 102.47,143.19 102.78,144.03 103.1,144.91 103.43,145.8 103.76,146.73 104.1,147.69 104.45,148.72 104.81,149.83 105.17,151 105.54,152.21 105.91,153.43 106.28,154.63 106.66,155.79 107.03,156.87 107.4,157.86 107.77,158.73 108.14,159.47 108.49,160.14 108.85,160.72 109.2,161.24 109.55,161.71 109.91,162.13 110.28,162.52 110.65,162.89 111.04,163.24 111.45,163.59 111.86,163.93 112.29,164.23 112.73,164.51 113.17,164.75 113.63,164.97 114.09,165.17 114.56,165.36 115.05,165.53 115.54,165.7 116.04,165.87 116.55,166.02 117.08,166.17 117.61,166.29 118.16,166.41 118.71,166.51 119.27,166.61 119.84,166.69 120.41,166.77 120.98,166.84 121.55,166.91 122.1,166.97 122.62,167.02 123.13,167.07 123.64,167.11 124.16,167.15 124.71,167.17 125.29,167.18 125.93,167.19 126.63,167.18 127.4,167.17 128.28,167.13 129.25,167.09 130.3,167.03 131.4,166.96 132.53,166.88 133.67,166.8 134.81,166.71 135.9,166.62 136.95,166.53 137.91,166.44 138.81,166.34 139.66,166.24 140.47,166.13 141.25,166.01 142.02,165.9 142.77,165.78 143.51,165.67 144.26,165.57 145.02,165.47 145.79,165.39 146.56,165.31 147.31,165.23 148.05,165.15 148.78,165.07 149.51,165 150.27,164.94 151.05,164.9 151.87,164.87 152.74,164.87 153.67,164.89 154.67,164.93 155.72,164.98 156.83,165.06 157.97,165.15 159.14,165.25 160.33,165.38 161.53,165.51 162.72,165.66 163.9,165.83 165.05,166.01 166.19,166.21 167.32,166.44 168.44,166.7 169.57,166.97 170.69,167.25 171.82,167.54 172.96,167.82 174.11,168.11 175.26,168.38 176.44,168.63 177.62,168.87 178.82,169.12 180.02,169.37 181.24,169.61 182.46,169.85 183.69,170.08 184.93,170.3 186.17,170.5 187.43,170.7 188.7,170.87 189.93,171.04 191.13,171.18 192.3,171.32 193.47,171.44 194.66,171.55 195.9,171.66 197.22,171.75 198.63,171.84 200.16,171.92 201.83,172 203.57,172.07 205.3,172.13 207.06,172.18 208.9,172.22 210.86,172.25 212.97,172.28 215.27,172.31 217.8,172.33 220.61,172.35 223.72,172.37 227.41,172.39 231.78,172.4 236.62,172.4 241.76,172.4 246.98,172.39 252.09,172.39 256.89,172.38 261.2,172.38 264.8,172.37 267.5,172.37" fill="none" stroke="#ff10ff" stroke-width="1.7" stroke-linejoin="round" stroke-linecap="round"/>
<polyline points="48.6,69.71 48.81,70.31 49.07,71.1 49.38,72.04 49.73,73.09 50.1,74.21 50.5,75.37 50.91,76.53 51.33,77.65 51.74,78.69 52.15,79.62 52.55,80.5 52.96,81.43 53.39,82.36 53.83,83.28 54.27,84.16 54.71,84.95 55.16,85.64 55.6,86.2 56.05,86.59 56.48,86.79 56.91,86.8 57.32,86.65 57.74,86.36 58.15,85.94 58.56,85.4 58.98,84.76 59.41,84.03 59.84,83.23 60.3,82.38 60.77,81.47 61.26,80.47 61.77,79.33 62.3,78.07 62.84,76.73 63.39,75.33 63.94,73.89 64.49,72.45 65.04,71.03 65.59,69.65 66.13,68.35 66.68,67.06 67.23,65.74 67.8,64.4 68.36,63.06 68.92,61.75 69.48,60.49 70.01,59.29 70.53,58.17 71.03,57.17 71.5,56.29 71.93,55.54 72.35,54.91 72.74,54.38 73.12,53.93 73.48,53.55 73.83,53.23 74.17,52.95 74.5,52.69 74.82,52.45 75.14,52.21 75.44,51.95 75.71,51.67 75.95,51.4 76.17,51.16 76.4,50.96 76.64,50.82 76.9,50.77 77.19,50.83 77.53,51 77.93,51.32 78.4,51.79 78.91,52.4 79.48,53.12 80.07,53.95 80.69,54.86 81.33,55.84 81.96,56.88 82.59,57.95 83.2,59.05 83.78,60.16 84.34,61.29 84.9,62.48 85.46,63.71 86.01,64.99 86.56,66.31 87.1,67.66 87.63,69.06 88.16,70.48 88.67,71.94 89.17,73.42 89.66,74.96 90.14,76.57 90.62,78.25 91.08,79.97 91.53,81.7 91.98,83.44 92.42,85.16 92.84,86.83 93.26,88.45 93.67,89.99 94.07,91.46 94.45,92.89 94.83,94.28 95.19,95.64 95.55,96.96 95.9,98.26 96.25,99.53 96.59,100.79 96.93,102.02 97.27,103.25 97.6,104.42 97.93,105.54 98.24,106.62 98.56,107.66 98.87,108.7 99.18,109.74 99.48,110.8 99.79,111.91 100.1,113.06 100.41,114.29 100.73,115.57 101.04,116.88 101.34,118.22 101.65,119.59 101.96,120.99 102.27,122.43 102.58,123.92 102.9,125.45 103.23,127.02 103.56,128.65 103.9,130.4 104.25,132.3 104.61,134.29 104.97,136.35 105.33,138.42 105.7,140.47 106.07,142.43 106.43,144.28 106.8,145.96 107.16,147.43 107.51,148.71 107.86,149.83 108.21,150.83 108.55,151.72 108.9,152.51 109.25,153.23 109.61,153.89 109.98,154.51 110.36,155.12 110.76,155.72 111.16,156.29 111.58,156.81 112.01,157.27 112.45,157.69 112.89,158.06 113.35,158.4 113.81,158.72 114.28,159.02 114.76,159.3 115.25,159.59 115.75,159.85 116.25,160.1 116.76,160.31 117.28,160.51 117.81,160.68 118.35,160.84 118.9,160.99 119.47,161.12 120.05,161.24 120.65,161.35 121.25,161.46 121.85,161.56 122.46,161.66 123.07,161.74 123.71,161.8 124.37,161.85 125.06,161.88 125.79,161.88 126.57,161.85 127.4,161.8 128.31,161.71 129.31,161.58 130.36,161.43 131.46,161.25 132.59,161.05 133.72,160.84 134.83,160.62 135.92,160.39 136.95,160.15 137.91,159.92 138.81,159.68 139.66,159.41 140.47,159.13 141.25,158.84 142.02,158.54 142.77,158.24 143.51,157.96 144.26,157.69 145.02,157.44 145.79,157.23 146.56,157.03 147.31,156.82 148.05,156.63 148.78,156.44 149.51,156.27 150.27,156.13 151.05,156.02 151.87,155.95 152.74,155.92 153.67,155.94 154.67,156.01 155.72,156.12 156.83,156.26 157.97,156.45 159.14,156.66 160.33,156.91 161.53,157.19 162.72,157.5 163.9,157.84 165.05,158.21 166.19,158.62 167.32,159.09 168.44,159.6 169.57,160.15 170.69,160.71 171.82,161.3 172.96,161.88 174.11,162.45 175.26,162.99 176.44,163.5 177.62,164 178.82,164.5 180.02,164.99 181.24,165.48 182.46,165.96 183.69,166.43 184.93,166.87 186.17,167.29 187.43,167.68 188.7,168.04 189.93,168.37 191.13,168.67 192.3,168.94 193.47,169.19 194.66,169.41 195.9,169.62 197.22,169.82 198.63,169.99 200.16,170.16 201.83,170.31 203.57,170.45 205.3,170.57 207.06,170.68 208.9,170.76 210.86,170.83 212.97,170.89 215.27,170.95 217.8,170.99 220.61,171.03 223.72,171.07 227.41,171.1 231.78,171.12 236.62,171.13 241.76,171.12 246.98,171.12 252.09,171.11 256.89,171.09 261.2,171.08 264.8,171.07 267.5,171.07" fill="none" stroke="#1f2fff" stroke-width="1.7" stroke-linejoin="round" stroke-linecap="round"/>
<polyline points="48.6,43.51 48.81,44.33 49.07,45.39 49.38,46.66 49.73,48.09 50.1,49.61 50.5,51.18 50.91,52.74 51.33,54.26 51.74,55.66 52.15,56.91 52.55,58.11 52.96,59.35 53.39,60.61 53.83,61.85 54.27,63.02 54.71,64.1 55.16,65.03 55.6,65.79 56.05,66.33 56.48,66.62 56.91,66.65 57.32,66.48 57.74,66.11 58.15,65.57 58.56,64.88 58.98,64.06 59.41,63.13 59.84,62.11 60.3,61.01 60.77,59.86 61.26,58.58 61.77,57.13 62.3,55.54 62.84,53.84 63.39,52.05 63.94,50.23 64.49,48.4 65.04,46.59 65.59,44.84 66.13,43.18 66.68,41.55 67.23,39.87 67.8,38.17 68.36,36.47 68.92,34.8 69.48,33.19 70.01,31.67 70.53,30.25 71.03,28.97 71.5,27.86 71.93,26.91 72.35,26.11 72.74,25.43 73.12,24.86 73.48,24.38 73.83,23.97 74.17,23.61 74.5,23.29 74.82,22.98 75.14,22.68 75.44,22.35 75.71,22 75.95,21.67 76.17,21.37 76.4,21.12 76.64,20.96 76.9,20.89 77.19,20.95 77.53,21.17 77.93,21.55 78.4,22.11 78.91,22.84 79.48,23.71 80.07,24.71 80.69,25.81 81.33,27 81.96,28.25 82.59,29.55 83.2,30.87 83.78,32.21 84.34,33.57 84.9,35 85.46,36.49 86.01,38.03 86.56,39.62 87.1,41.26 87.63,42.94 88.16,44.66 88.67,46.41 89.17,48.2 89.66,50.05 90.14,52 90.62,54.03 91.08,56.1 91.53,58.19 91.98,60.29 92.42,62.36 92.84,64.38 93.26,66.33 93.67,68.19 94.07,69.96 94.45,71.68 94.83,73.36 95.19,75 95.55,76.6 95.9,78.16 96.25,79.7 96.59,81.21 96.93,82.7 97.27,84.18 97.6,85.6 97.93,86.95 98.24,88.24 98.56,89.51 98.87,90.76 99.18,92.01 99.48,93.29 99.79,94.62 100.1,96.02 100.41,97.5 100.73,99.05 101.04,100.63 101.34,102.24 101.65,103.89 101.96,105.58 102.27,107.32 102.58,109.11 102.9,110.95 103.23,112.86 103.56,114.82 103.9,116.93 104.25,119.22 104.61,121.63 104.97,124.11 105.33,126.61 105.7,129.07 106.07,131.44 106.43,133.67 106.8,135.7 107.16,137.48 107.51,139.01 107.86,140.37 108.21,141.57 108.55,142.64 108.9,143.6 109.25,144.46 109.61,145.26 109.98,146.02 110.36,146.74 110.76,147.47 111.16,148.16 111.58,148.79 112.01,149.34 112.45,149.84 112.89,150.29 113.35,150.71 113.81,151.09 114.28,151.45 114.76,151.79 115.25,152.13 115.75,152.46 116.25,152.75 116.76,153.01 117.28,153.25 117.81,153.46 118.35,153.65 118.9,153.82 119.47,153.98 120.05,154.13 120.65,154.27 121.25,154.39 121.85,154.51 122.46,154.61 123.07,154.7 123.71,154.77 124.37,154.82 125.06,154.85 125.79,154.86 126.57,154.84 127.4,154.8 128.31,154.73 129.31,154.63 130.36,154.5 131.46,154.34 132.59,154.17 133.72,153.99 134.83,153.79 135.92,153.59 136.95,153.39 137.91,153.19 138.81,152.98 139.66,152.75 140.47,152.5 141.25,152.25 142.02,151.99 142.77,151.74 143.51,151.5 144.26,151.26 145.02,151.05 145.79,150.87 146.56,150.69 147.31,150.51 148.05,150.33 148.78,150.16 149.51,150 150.27,149.87 151.05,149.78 151.87,149.72 152.74,149.71 153.67,149.76 154.67,149.85 155.72,149.98 156.83,150.16 157.97,150.37 159.14,150.61 160.33,150.89 161.53,151.21 162.72,151.56 163.9,151.95 165.05,152.37 166.19,152.84 167.32,153.38 168.44,153.97 169.57,154.6 170.69,155.25 171.82,155.92 172.96,156.59 174.11,157.24 175.26,157.87 176.44,158.46 177.62,159.03 178.82,159.6 180.02,160.17 181.24,160.74 182.46,161.29 183.69,161.82 184.93,162.34 186.17,162.82 187.43,163.27 188.7,163.68 189.93,164.06 191.13,164.4 192.3,164.71 193.47,165 194.66,165.26 195.9,165.5 197.22,165.72 198.63,165.93 200.16,166.12 201.83,166.29 203.57,166.46 205.3,166.59 207.06,166.71 208.9,166.81 210.86,166.89 212.97,166.96 215.27,167.02 217.8,167.07 220.61,167.12 223.72,167.17 227.41,167.2 231.78,167.22 236.62,167.23 241.76,167.23 246.98,167.22 252.09,167.21 256.89,167.19 261.2,167.18 264.8,167.17 267.5,167.17" fill="none" stroke="#ff1010" stroke-width="1.7" stroke-linejoin="round" stroke-linecap="round"/>
<polyline points="48.6,103.06 48.75,103.37 48.94,103.78 49.16,104.26 49.41,104.8 49.68,105.38 49.97,105.98 50.27,106.57 50.57,107.15 50.87,107.68 51.16,108.16 51.44,108.64 51.73,109.18 52.01,109.75 52.3,110.31 52.59,110.84 52.9,111.31 53.22,111.67 53.55,111.9 53.91,111.97 54.29,111.85 54.69,111.55 55.12,111.14 55.56,110.61 56.01,109.96 56.48,109.18 56.97,108.29 57.46,107.27 57.97,106.13 58.49,104.86 59.02,103.48 59.56,101.9 60.13,100.11 60.71,98.13 61.3,96.02 61.9,93.81 62.51,91.56 63.12,89.29 63.73,87.05 64.33,84.88 64.93,82.83 65.53,80.81 66.14,78.72 66.76,76.62 67.38,74.51 68,72.45 68.61,70.46 69.21,68.57 69.78,66.82 70.33,65.24 70.84,63.85 71.32,62.68 71.78,61.69 72.21,60.85 72.63,60.14 73.03,59.55 73.41,59.04 73.78,58.6 74.15,58.2 74.5,57.82 74.86,57.44 75.19,57.05 75.49,56.67 75.76,56.33 76.03,56.02 76.28,55.78 76.55,55.62 76.84,55.55 77.16,55.58 77.52,55.74 77.93,56.04 78.41,56.49 78.93,57.08 79.49,57.8 80.08,58.63 80.7,59.55 81.32,60.54 81.95,61.59 82.57,62.67 83.17,63.78 83.75,64.89 84.31,66.03 84.86,67.21 85.42,68.44 85.97,69.72 86.51,71.05 87.05,72.41 87.58,73.8 88.11,75.23 88.62,76.69 89.11,78.17 89.6,79.71 90.08,81.33 90.55,83.01 91.01,84.73 91.46,86.47 91.91,88.2 92.34,89.92 92.76,91.6 93.18,93.22 93.59,94.76 93.98,96.24 94.37,97.67 94.74,99.06 95.1,100.42 95.46,101.75 95.81,103.05 96.15,104.32 96.49,105.58 96.83,106.82 97.17,108.04 97.5,109.22 97.82,110.34 98.14,111.42 98.45,112.47 98.76,113.5 99.07,114.55 99.37,115.61 99.68,116.71 99.98,117.87 100.3,119.1 100.61,120.39 100.91,121.7 101.22,123.03 101.53,124.41 101.83,125.81 102.14,127.26 102.45,128.74 102.77,130.27 103.1,131.85 103.43,133.49 103.77,135.23 104.11,137.13 104.47,139.13 104.83,141.2 105.19,143.27 105.55,145.32 105.92,147.28 106.28,149.13 106.65,150.82 107,152.29 107.36,153.57 107.71,154.7 108.05,155.7 108.39,156.58 108.74,157.38 109.09,158.1 109.44,158.76 109.81,159.38 110.19,159.99 110.58,160.59 110.99,161.17 111.41,161.68 111.83,162.15 112.26,162.56 112.71,162.94 113.16,163.28 113.62,163.6 114.09,163.9 114.57,164.18 115.06,164.46 115.55,164.73 116.05,164.97 116.55,165.19 117.06,165.39 117.58,165.56 118.12,165.72 118.67,165.87 119.23,166 119.82,166.12 120.42,166.23 121.04,166.35 121.66,166.46 122.29,166.57 122.93,166.66 123.59,166.74 124.28,166.79 125,166.82 125.76,166.81 126.56,166.77 127.4,166.68 128.32,166.54 129.32,166.35 130.38,166.12 131.48,165.86 132.6,165.57 133.73,165.26 134.84,164.93 135.92,164.6 136.95,164.26 137.91,163.92 138.81,163.56 139.66,163.17 140.47,162.75 141.25,162.32 142.02,161.88 142.77,161.45 143.51,161.03 144.26,160.63 145.02,160.27 145.79,159.95 146.56,159.66 147.31,159.38 148.05,159.1 148.78,158.85 149.51,158.62 150.27,158.43 151.05,158.26 151.87,158.14 152.74,158.07 153.67,158.05 154.67,158.09 155.72,158.17 156.83,158.3 157.97,158.47 159.14,158.68 160.33,158.92 161.53,159.19 162.72,159.49 163.9,159.81 165.05,160.15 166.19,160.53 167.32,160.96 168.44,161.44 169.57,161.94 170.69,162.47 171.82,163.01 172.96,163.54 174.11,164.07 175.26,164.58 176.44,165.05 177.62,165.51 178.82,165.97 180.02,166.43 181.24,166.88 182.46,167.32 183.69,167.75 184.93,168.16 186.17,168.55 187.43,168.92 188.7,169.25 189.93,169.55 191.13,169.82 192.3,170.08 193.47,170.31 194.66,170.52 195.9,170.71 197.22,170.89 198.63,171.05 200.16,171.2 201.83,171.35 203.57,171.48 205.3,171.59 207.06,171.68 208.9,171.76 210.86,171.83 212.97,171.88 215.27,171.93 217.8,171.97 220.61,172.01 223.72,172.05 227.41,172.07 231.78,172.09 236.62,172.1 241.76,172.1 246.98,172.09 252.09,172.08 256.89,172.07 261.2,172.06 264.8,172.05 267.5,172.05" fill="none" stroke="#111111" stroke-width="1.7" stroke-linejoin="round" stroke-linecap="round"/>
<rect x="48.6" y="12.6" width="218.9" height="162.7" fill="none" stroke="#000" stroke-width="1.45"/>
<line x1="48.6" y1="175.3" x2="48.6" y2="178.5" stroke="#000" stroke-width="1.3"/>
<text x="48.6" y="188.5" font-size="9.5" text-anchor="middle" fill="#000" font-weight="bold">200</text>
<line x1="92.38" y1="175.3" x2="92.38" y2="178.5" stroke="#000" stroke-width="1.3"/>
<text x="92.38" y="188.5" font-size="9.5" text-anchor="middle" fill="#000" font-weight="bold">250</text>
<line x1="136.16" y1="175.3" x2="136.16" y2="178.5" stroke="#000" stroke-width="1.3"/>
<text x="136.16" y="188.5" font-size="9.5" text-anchor="middle" fill="#000" font-weight="bold">300</text>
<line x1="179.94" y1="175.3" x2="179.94" y2="178.5" stroke="#000" stroke-width="1.3"/>
<text x="179.94" y="188.5" font-size="9.5" text-anchor="middle" fill="#000" font-weight="bold">350</text>
<line x1="223.72" y1="175.3" x2="223.72" y2="178.5" stroke="#000" stroke-width="1.3"/>
<text x="223.72" y="188.5" font-size="9.5" text-anchor="middle" fill="#000" font-weight="bold">400</text>
<line x1="267.5" y1="175.3" x2="267.5" y2="178.5" stroke="#000" stroke-width="1.3"/>
<text x="267.5" y="188.5" font-size="9.5" text-anchor="middle" fill="#000" font-weight="bold">450</text>
<line x1="45.4" y1="175.3" x2="48.6" y2="175.3" stroke="#000" stroke-width="1.3"/>
<text x="43.6" y="178.4" font-size="9.5" text-anchor="end" fill="#000" font-weight="bold">0.0</text>
<line x1="45.4" y1="142.76" x2="48.6" y2="142.76" stroke="#000" stroke-width="1.3"/>
<text x="43.6" y="145.86" font-size="9.5" text-anchor="end" fill="#000" font-weight="bold">0.2</text>
<line x1="45.4" y1="110.22" x2="48.6" y2="110.22" stroke="#000" stroke-width="1.3"/>
<text x="43.6" y="113.32" font-size="9.5" text-anchor="end" fill="#000" font-weight="bold">0.4</text>
<line x1="45.4" y1="77.68" x2="48.6" y2="77.68" stroke="#000" stroke-width="1.3"/>
<text x="43.6" y="80.78" font-size="9.5" text-anchor="end" fill="#000" font-weight="bold">0.6</text>
<line x1="45.4" y1="45.14" x2="48.6" y2="45.14" stroke="#000" stroke-width="1.3"/>
<text x="43.6" y="48.24" font-size="9.5" text-anchor="end" fill="#000" font-weight="bold">0.8</text>
<line x1="45.4" y1="12.6" x2="48.6" y2="12.6" stroke="#000" stroke-width="1.3"/>
<text x="43.6" y="15.7" font-size="9.5" text-anchor="end" fill="#000" font-weight="bold">1.0</text>
<text x="3.6" y="24.2" font-size="17" text-anchor="start" fill="#000" font-weight="bold">(a)</text>
<text x="0" y="0" font-size="12" text-anchor="middle" fill="#000" font-weight="bold" transform="translate(19.4 101) rotate(-90)">Absorbance</text>
<text x="158" y="206.3" font-size="12" text-anchor="middle" fill="#000" font-weight="bold">Wavelength (nm)</text>
<text x="90.8" y="33.1" font-size="8.6" text-anchor="start" fill="#000" font-weight="bold" letter-spacing="0.1">232 nm</text>
<text x="125.2" y="137.2" font-size="8.5" text-anchor="start" fill="#000" font-weight="bold">321 nm</text>
<text x="116.2" y="82.3" font-size="10.3" text-anchor="start" fill="#8b1515" font-weight="bold" letter-spacing="0.2">Acebutolol</text>
<line x1="200" y1="26" x2="218.3" y2="26" stroke="#111111" stroke-width="1.7"/>
<text x="234.8" y="28.8" font-size="7.9" text-anchor="middle" fill="#000" font-weight="bold" letter-spacing="0.3">ACB</text>
<line x1="200" y1="36.47" x2="218.3" y2="36.47" stroke="#ff1010" stroke-width="1.7"/>
<text x="249.9" y="39.27" font-size="7.9" text-anchor="end" fill="#000" font-weight="bold" letter-spacing="0.35">-30 mins</text>
<line x1="200" y1="46.94" x2="218.3" y2="46.94" stroke="#1f2fff" stroke-width="1.7"/>
<text x="249.9" y="49.74" font-size="7.9" text-anchor="end" fill="#000" font-weight="bold" letter-spacing="0.35">-15 mins</text>
<line x1="200" y1="57.41" x2="218.3" y2="57.41" stroke="#ff10ff" stroke-width="1.7"/>
<text x="249.9" y="60.21" font-size="7.9" text-anchor="end" fill="#000" font-weight="bold" letter-spacing="0.35">0 mins</text>
<line x1="200" y1="67.88" x2="218.3" y2="67.88" stroke="#158a15" stroke-width="1.7"/>
<text x="249.9" y="70.68" font-size="7.9" text-anchor="end" fill="#000" font-weight="bold" letter-spacing="0.35">10 mins</text>
<line x1="200" y1="78.35" x2="218.3" y2="78.35" stroke="#1a1a8a" stroke-width="1.7"/>
<text x="249.9" y="81.15" font-size="7.9" text-anchor="end" fill="#000" font-weight="bold" letter-spacing="0.35">20 mins</text>
<line x1="200" y1="88.82" x2="218.3" y2="88.82" stroke="#8040ff" stroke-width="1.7"/>
<text x="249.9" y="91.62" font-size="7.9" text-anchor="end" fill="#000" font-weight="bold" letter-spacing="0.35">30 mins</text>
<line x1="200" y1="99.29" x2="218.3" y2="99.29" stroke="#852a95" stroke-width="1.7"/>
<text x="249.9" y="102.09" font-size="7.9" text-anchor="end" fill="#000" font-weight="bold" letter-spacing="0.35">40 mins</text>
<line x1="200" y1="109.76" x2="218.3" y2="109.76" stroke="#9a2a2a" stroke-width="1.7"/>
<text x="249.9" y="112.56" font-size="7.9" text-anchor="end" fill="#000" font-weight="bold" letter-spacing="0.35">50 mins</text>
<line x1="200" y1="120.23" x2="218.3" y2="120.23" stroke="#8a8a1a" stroke-width="1.7"/>
<text x="249.9" y="123.03" font-size="7.9" text-anchor="end" fill="#000" font-weight="bold" letter-spacing="0.35">60 mins</text>
<line x1="200" y1="130.7" x2="218.3" y2="130.7" stroke="#3a70d0" stroke-width="1.7"/>
<text x="249.9" y="133.5" font-size="7.9" text-anchor="end" fill="#000" font-weight="bold" letter-spacing="0.35">70 mins</text>
<line x1="200" y1="141.17" x2="218.3" y2="141.17" stroke="#20a0a0" stroke-width="1.7"/>
<text x="249.9" y="143.97" font-size="7.9" text-anchor="end" fill="#000" font-weight="bold" letter-spacing="0.35">80 mins</text>
<line x1="200" y1="151.64" x2="218.3" y2="151.64" stroke="#b87a30" stroke-width="1.7"/>
<text x="249.9" y="154.44" font-size="7.9" text-anchor="end" fill="#000" font-weight="bold" letter-spacing="0.35">90 mins</text>
<line x1="375.8" y1="11.6" x2="375.8" y2="179.5" stroke="#2a2a2a" stroke-width="1.25" stroke-dasharray="3.9 4.1"/>
<polyline points="320.7,12.3 348.2,13.14 375.7,13.64 394.03,14.14 412.37,14.81 430.7,15.31 449.03,15.31 467.36,15.81 485.7,15.98 504.03,16.31 522.36,16.48 540.7,17.32" fill="none" stroke="#ff1a8c" stroke-width="1.3" stroke-linejoin="round" stroke-linecap="round"/>
<circle cx="320.7" cy="12.3" r="1.4" fill="#ff1a8c" stroke="#ff1a8c" stroke-width="0.8"/>
<circle cx="320.7" cy="12.3" r="0.70" fill="#fff" fill-opacity="0.45"/>
<circle cx="348.2" cy="13.14" r="1.4" fill="#ff1a8c" stroke="#ff1a8c" stroke-width="0.8"/>
<circle cx="348.2" cy="13.14" r="0.70" fill="#fff" fill-opacity="0.45"/>
<circle cx="375.7" cy="13.64" r="1.4" fill="#ff1a8c" stroke="#ff1a8c" stroke-width="0.8"/>
<circle cx="375.7" cy="13.64" r="0.70" fill="#fff" fill-opacity="0.45"/>
<circle cx="394.03" cy="14.14" r="1.4" fill="#ff1a8c" stroke="#ff1a8c" stroke-width="0.8"/>
<circle cx="394.03" cy="14.14" r="0.70" fill="#fff" fill-opacity="0.45"/>
<circle cx="412.37" cy="14.81" r="1.4" fill="#ff1a8c" stroke="#ff1a8c" stroke-width="0.8"/>
<circle cx="412.37" cy="14.81" r="0.70" fill="#fff" fill-opacity="0.45"/>
<circle cx="430.7" cy="15.31" r="1.4" fill="#ff1a8c" stroke="#ff1a8c" stroke-width="0.8"/>
<circle cx="430.7" cy="15.31" r="0.70" fill="#fff" fill-opacity="0.45"/>
<circle cx="449.03" cy="15.31" r="1.4" fill="#ff1a8c" stroke="#ff1a8c" stroke-width="0.8"/>
<circle cx="449.03" cy="15.31" r="0.70" fill="#fff" fill-opacity="0.45"/>
<circle cx="467.36" cy="15.81" r="1.4" fill="#ff1a8c" stroke="#ff1a8c" stroke-width="0.8"/>
<circle cx="467.36" cy="15.81" r="0.70" fill="#fff" fill-opacity="0.45"/>
<circle cx="485.7" cy="15.98" r="1.4" fill="#ff1a8c" stroke="#ff1a8c" stroke-width="0.8"/>
<circle cx="485.7" cy="15.98" r="0.70" fill="#fff" fill-opacity="0.45"/>
<circle cx="504.03" cy="16.31" r="1.4" fill="#ff1a8c" stroke="#ff1a8c" stroke-width="0.8"/>
<circle cx="504.03" cy="16.31" r="0.70" fill="#fff" fill-opacity="0.45"/>
<circle cx="522.36" cy="16.48" r="1.4" fill="#ff1a8c" stroke="#ff1a8c" stroke-width="0.8"/>
<circle cx="522.36" cy="16.48" r="0.70" fill="#fff" fill-opacity="0.45"/>
<circle cx="540.7" cy="17.32" r="1.4" fill="#ff1a8c" stroke="#ff1a8c" stroke-width="0.8"/>
<circle cx="540.7" cy="17.32" r="0.70" fill="#fff" fill-opacity="0.45"/>
<polyline points="320.7,12.3 348.2,24.67 375.7,32.87 394.03,42.06 412.37,48.08 430.7,73.16 449.03,90.22 467.36,103.76 485.7,109.78 504.03,121.15 522.36,138.87 540.7,141.04" fill="none" stroke="#1e8c1e" stroke-width="1.3" stroke-linejoin="round" stroke-linecap="round"/>
<circle cx="320.7" cy="12.3" r="1.4" fill="#1e8c1e" stroke="#1e8c1e" stroke-width="0.8"/>
<circle cx="320.7" cy="12.3" r="0.70" fill="#fff" fill-opacity="0.45"/>
<circle cx="348.2" cy="24.67" r="1.4" fill="#1e8c1e" stroke="#1e8c1e" stroke-width="0.8"/>
<circle cx="348.2" cy="24.67" r="0.70" fill="#fff" fill-opacity="0.45"/>
<circle cx="375.7" cy="32.87" r="1.4" fill="#1e8c1e" stroke="#1e8c1e" stroke-width="0.8"/>
<circle cx="375.7" cy="32.87" r="0.70" fill="#fff" fill-opacity="0.45"/>
<circle cx="394.03" cy="42.06" r="1.4" fill="#1e8c1e" stroke="#1e8c1e" stroke-width="0.8"/>
<circle cx="394.03" cy="42.06" r="0.70" fill="#fff" fill-opacity="0.45"/>
<circle cx="412.37" cy="48.08" r="1.4" fill="#1e8c1e" stroke="#1e8c1e" stroke-width="0.8"/>
<circle cx="412.37" cy="48.08" r="0.70" fill="#fff" fill-opacity="0.45"/>
<circle cx="430.7" cy="73.16" r="1.4" fill="#1e8c1e" stroke="#1e8c1e" stroke-width="0.8"/>
<circle cx="430.7" cy="73.16" r="0.70" fill="#fff" fill-opacity="0.45"/>
<circle cx="449.03" cy="90.22" r="1.4" fill="#1e8c1e" stroke="#1e8c1e" stroke-width="0.8"/>
<circle cx="449.03" cy="90.22" r="0.70" fill="#fff" fill-opacity="0.45"/>
<circle cx="467.36" cy="103.76" r="1.4" fill="#1e8c1e" stroke="#1e8c1e" stroke-width="0.8"/>
<circle cx="467.36" cy="103.76" r="0.70" fill="#fff" fill-opacity="0.45"/>
<circle cx="485.7" cy="109.78" r="1.4" fill="#1e8c1e" stroke="#1e8c1e" stroke-width="0.8"/>
<circle cx="485.7" cy="109.78" r="0.70" fill="#fff" fill-opacity="0.45"/>
<circle cx="504.03" cy="121.15" r="1.4" fill="#1e8c1e" stroke="#1e8c1e" stroke-width="0.8"/>
<circle cx="504.03" cy="121.15" r="0.70" fill="#fff" fill-opacity="0.45"/>
<circle cx="522.36" cy="138.87" r="1.4" fill="#1e8c1e" stroke="#1e8c1e" stroke-width="0.8"/>
<circle cx="522.36" cy="138.87" r="0.70" fill="#fff" fill-opacity="0.45"/>
<circle cx="540.7" cy="141.04" r="1.4" fill="#1e8c1e" stroke="#1e8c1e" stroke-width="0.8"/>
<circle cx="540.7" cy="141.04" r="0.70" fill="#fff" fill-opacity="0.45"/>
<polyline points="320.7,12.3 348.2,28.69 375.7,43.57 394.03,61.12 412.37,78.85 430.7,97.24 449.03,109.78 467.36,123.99 485.7,134.86 504.03,150.74 522.36,159.27 540.7,162.45" fill="none" stroke="#1e22a8" stroke-width="1.3" stroke-linejoin="round" stroke-linecap="round"/>
<circle cx="320.7" cy="12.3" r="1.4" fill="#1e22a8" stroke="#1e22a8" stroke-width="0.8"/>
<circle cx="320.7" cy="12.3" r="0.70" fill="#fff" fill-opacity="0.45"/>
<circle cx="348.2" cy="28.69" r="1.4" fill="#1e22a8" stroke="#1e22a8" stroke-width="0.8"/>
<circle cx="348.2" cy="28.69" r="0.70" fill="#fff" fill-opacity="0.45"/>
<circle cx="375.7" cy="43.57" r="1.4" fill="#1e22a8" stroke="#1e22a8" stroke-width="0.8"/>
<circle cx="375.7" cy="43.57" r="0.70" fill="#fff" fill-opacity="0.45"/>
<circle cx="394.03" cy="61.12" r="1.4" fill="#1e22a8" stroke="#1e22a8" stroke-width="0.8"/>
<circle cx="394.03" cy="61.12" r="0.70" fill="#fff" fill-opacity="0.45"/>
<circle cx="412.37" cy="78.85" r="1.4" fill="#1e22a8" stroke="#1e22a8" stroke-width="0.8"/>
<circle cx="412.37" cy="78.85" r="0.70" fill="#fff" fill-opacity="0.45"/>
<circle cx="430.7" cy="97.24" r="1.4" fill="#1e22a8" stroke="#1e22a8" stroke-width="0.8"/>
<circle cx="430.7" cy="97.24" r="0.70" fill="#fff" fill-opacity="0.45"/>
<circle cx="449.03" cy="109.78" r="1.4" fill="#1e22a8" stroke="#1e22a8" stroke-width="0.8"/>
<circle cx="449.03" cy="109.78" r="0.70" fill="#fff" fill-opacity="0.45"/>
<circle cx="467.36" cy="123.99" r="1.4" fill="#1e22a8" stroke="#1e22a8" stroke-width="0.8"/>
<circle cx="467.36" cy="123.99" r="0.70" fill="#fff" fill-opacity="0.45"/>
<circle cx="485.7" cy="134.86" r="1.4" fill="#1e22a8" stroke="#1e22a8" stroke-width="0.8"/>
<circle cx="485.7" cy="134.86" r="0.70" fill="#fff" fill-opacity="0.45"/>
<circle cx="504.03" cy="150.74" r="1.4" fill="#1e22a8" stroke="#1e22a8" stroke-width="0.8"/>
<circle cx="504.03" cy="150.74" r="0.70" fill="#fff" fill-opacity="0.45"/>
<circle cx="522.36" cy="159.27" r="1.4" fill="#1e22a8" stroke="#1e22a8" stroke-width="0.8"/>
<circle cx="522.36" cy="159.27" r="0.70" fill="#fff" fill-opacity="0.45"/>
<circle cx="540.7" cy="162.45" r="1.4" fill="#1e22a8" stroke="#1e22a8" stroke-width="0.8"/>
<circle cx="540.7" cy="162.45" r="0.70" fill="#fff" fill-opacity="0.45"/>
<polyline points="320.7,12.3 348.2,45.57 375.7,99.91 394.03,106.6 412.37,115.13 430.7,122.15 449.03,140.71 467.36,146.56 485.7,155.59 504.03,159.6 522.36,164.12 540.7,167.29" fill="none" stroke="#8a2cff" stroke-width="1.3" stroke-linejoin="round" stroke-linecap="round"/>
<circle cx="320.7" cy="12.3" r="1.4" fill="#8a2cff" stroke="#8a2cff" stroke-width="0.8"/>
<circle cx="320.7" cy="12.3" r="0.70" fill="#fff" fill-opacity="0.45"/>
<circle cx="348.2" cy="45.57" r="1.4" fill="#8a2cff" stroke="#8a2cff" stroke-width="0.8"/>
<circle cx="348.2" cy="45.57" r="0.70" fill="#fff" fill-opacity="0.45"/>
<circle cx="375.7" cy="99.91" r="1.4" fill="#8a2cff" stroke="#8a2cff" stroke-width="0.8"/>
<circle cx="375.7" cy="99.91" r="0.70" fill="#fff" fill-opacity="0.45"/>
<circle cx="394.03" cy="106.6" r="1.4" fill="#8a2cff" stroke="#8a2cff" stroke-width="0.8"/>
<circle cx="394.03" cy="106.6" r="0.70" fill="#fff" fill-opacity="0.45"/>
<circle cx="412.37" cy="115.13" r="1.4" fill="#8a2cff" stroke="#8a2cff" stroke-width="0.8"/>
<circle cx="412.37" cy="115.13" r="0.70" fill="#fff" fill-opacity="0.45"/>
<circle cx="430.7" cy="122.15" r="1.4" fill="#8a2cff" stroke="#8a2cff" stroke-width="0.8"/>
<circle cx="430.7" cy="122.15" r="0.70" fill="#fff" fill-opacity="0.45"/>
<circle cx="449.03" cy="140.71" r="1.4" fill="#8a2cff" stroke="#8a2cff" stroke-width="0.8"/>
<circle cx="449.03" cy="140.71" r="0.70" fill="#fff" fill-opacity="0.45"/>
<circle cx="467.36" cy="146.56" r="1.4" fill="#8a2cff" stroke="#8a2cff" stroke-width="0.8"/>
<circle cx="467.36" cy="146.56" r="0.70" fill="#fff" fill-opacity="0.45"/>
<circle cx="485.7" cy="155.59" r="1.4" fill="#8a2cff" stroke="#8a2cff" stroke-width="0.8"/>
<circle cx="485.7" cy="155.59" r="0.70" fill="#fff" fill-opacity="0.45"/>
<circle cx="504.03" cy="159.6" r="1.4" fill="#8a2cff" stroke="#8a2cff" stroke-width="0.8"/>
<circle cx="504.03" cy="159.6" r="0.70" fill="#fff" fill-opacity="0.45"/>
<circle cx="522.36" cy="164.12" r="1.4" fill="#8a2cff" stroke="#8a2cff" stroke-width="0.8"/>
<circle cx="522.36" cy="164.12" r="0.70" fill="#fff" fill-opacity="0.45"/>
<circle cx="540.7" cy="167.29" r="1.4" fill="#8a2cff" stroke="#8a2cff" stroke-width="0.8"/>
<circle cx="540.7" cy="167.29" r="0.70" fill="#fff" fill-opacity="0.45"/>
<rect x="317.1" y="10.8" width="227" height="168.7" fill="none" stroke="#000" stroke-width="1.45"/>
<line x1="320.7" y1="179.5" x2="320.7" y2="182.7" stroke="#000" stroke-width="1.3"/>
<text x="320.7" y="193.2" font-size="10" text-anchor="middle" fill="#000" font-weight="bold">-30</text>
<line x1="348.2" y1="179.5" x2="348.2" y2="182.7" stroke="#000" stroke-width="1.3"/>
<text x="348.2" y="193.2" font-size="10" text-anchor="middle" fill="#000" font-weight="bold">-15</text>
<line x1="375.7" y1="179.5" x2="375.7" y2="182.7" stroke="#000" stroke-width="1.3"/>
<text x="375.7" y="193.2" font-size="10" text-anchor="middle" fill="#000" font-weight="bold">0</text>
<line x1="403.2" y1="179.5" x2="403.2" y2="182.7" stroke="#000" stroke-width="1.3"/>
<text x="403.2" y="193.2" font-size="10" text-anchor="middle" fill="#000" font-weight="bold">15</text>
<line x1="430.7" y1="179.5" x2="430.7" y2="182.7" stroke="#000" stroke-width="1.3"/>
<text x="430.7" y="193.2" font-size="10" text-anchor="middle" fill="#000" font-weight="bold">30</text>
<line x1="458.2" y1="179.5" x2="458.2" y2="182.7" stroke="#000" stroke-width="1.3"/>
<text x="458.2" y="193.2" font-size="10" text-anchor="middle" fill="#000" font-weight="bold">45</text>
<line x1="485.7" y1="179.5" x2="485.7" y2="182.7" stroke="#000" stroke-width="1.3"/>
<text x="485.7" y="193.2" font-size="10" text-anchor="middle" fill="#000" font-weight="bold">60</text>
<line x1="513.2" y1="179.5" x2="513.2" y2="182.7" stroke="#000" stroke-width="1.3"/>
<text x="513.2" y="193.2" font-size="10" text-anchor="middle" fill="#000" font-weight="bold">75</text>
<line x1="540.7" y1="179.5" x2="540.7" y2="182.7" stroke="#000" stroke-width="1.3"/>
<text x="540.7" y="193.2" font-size="10" text-anchor="middle" fill="#000" font-weight="bold">90</text>
<line x1="313.9" y1="179.5" x2="317.1" y2="179.5" stroke="#000" stroke-width="1.3"/>
<text x="311.8" y="182.9" font-size="10" text-anchor="end" fill="#000" font-weight="bold">0.0</text>
<line x1="313.9" y1="146.06" x2="317.1" y2="146.06" stroke="#000" stroke-width="1.3"/>
<text x="311.8" y="149.46" font-size="10" text-anchor="end" fill="#000" font-weight="bold">0.2</text>
<line x1="313.9" y1="112.62" x2="317.1" y2="112.62" stroke="#000" stroke-width="1.3"/>
<text x="311.8" y="116.02" font-size="10" text-anchor="end" fill="#000" font-weight="bold">0.4</text>
<line x1="313.9" y1="79.18" x2="317.1" y2="79.18" stroke="#000" stroke-width="1.3"/>
<text x="311.8" y="82.58" font-size="10" text-anchor="end" fill="#000" font-weight="bold">0.6</text>
<line x1="313.9" y1="45.74" x2="317.1" y2="45.74" stroke="#000" stroke-width="1.3"/>
<text x="311.8" y="49.14" font-size="10" text-anchor="end" fill="#000" font-weight="bold">0.8</text>
<line x1="313.9" y1="12.3" x2="317.1" y2="12.3" stroke="#000" stroke-width="1.3"/>
<text x="311.8" y="15.7" font-size="10" text-anchor="end" fill="#000" font-weight="bold">1.0</text>
<text x="276" y="15.8" font-size="16.4" text-anchor="start" fill="#000" font-weight="bold">(b)</text>
<text x="0" y="0" font-size="13.5" font-weight="bold" text-anchor="middle" transform="translate(291.3 103.35) rotate(-90)">C/C<tspan font-size="11" dy="3.3">0</tspan></text>
<text x="430" y="212" font-size="12.4" text-anchor="middle" fill="#000" font-weight="bold" letter-spacing="0.1">Irradiation time (min)</text>
<text x="349.8" y="163.2" font-size="8.3" text-anchor="start" fill="#000" font-weight="bold">Dark</text>
<text x="384.2" y="162.6" font-size="8.3" text-anchor="start" fill="#000" font-weight="bold" letter-spacing="0.2">Visible light</text>
<line x1="473.8" y1="42.6" x2="492.9" y2="42.6" stroke="#ff1a8c" stroke-width="1.4"/>
<circle cx="483.35" cy="42.6" r="1.4" fill="#ff1a8c" stroke="#ff1a8c" stroke-width="0.8"/>
<circle cx="483.35" cy="42.6" r="0.70" fill="#fff" fill-opacity="0.35"/>
<text x="494" y="45.2" font-size="7.3" text-anchor="start" fill="#000" font-weight="bold" letter-spacing="0.35">Light alone</text>
<line x1="473.8" y1="52.6" x2="492.9" y2="52.6" stroke="#1e8c1e" stroke-width="1.4"/>
<circle cx="483.35" cy="52.6" r="1.4" fill="#1e8c1e" stroke="#1e8c1e" stroke-width="0.8"/>
<circle cx="483.35" cy="52.6" r="0.70" fill="#fff" fill-opacity="0.35"/>
<text x="494" y="55.2" font-size="7.3" text-anchor="start" fill="#000" font-weight="bold" letter-spacing="0.35">CeO<tspan dy="2.6" font-size="7.6">2</tspan></text>
<line x1="473.8" y1="65.8" x2="492.9" y2="65.8" stroke="#1e22a8" stroke-width="1.4"/>
<circle cx="483.35" cy="65.8" r="1.4" fill="#1e22a8" stroke="#1e22a8" stroke-width="0.8"/>
<circle cx="483.35" cy="65.8" r="0.70" fill="#fff" fill-opacity="0.35"/>
<text x="494" y="68.4" font-size="7.3" text-anchor="start" fill="#000" font-weight="bold" letter-spacing="0.35">MnO<tspan dy="2.6" font-size="7.5">2</tspan></text>
<line x1="473.8" y1="79.5" x2="492.9" y2="79.5" stroke="#8a2cff" stroke-width="1.4"/>
<circle cx="483.35" cy="79.5" r="1.4" fill="#8a2cff" stroke="#8a2cff" stroke-width="0.8"/>
<circle cx="483.35" cy="79.5" r="0.70" fill="#fff" fill-opacity="0.35"/>
<text x="494" y="82.1" font-size="7.3" text-anchor="start" fill="#000" font-weight="bold" letter-spacing="0.35">Ce@MnO<tspan dy="2.6" font-size="7.5">2</tspan></text>
<clipPath id="clc"><rect x="45.0" y="216.2" width="224.10000000000002" height="166.8"/></clipPath>
<g clip-path="url(#clc)">
<line x1="48.3" y1="379.5" x2="260.5" y2="240" stroke="#8a8a1e" stroke-width="1.2"/>
<line x1="70.8" y1="383.5" x2="260.5" y2="262.7" stroke="#ff2a90" stroke-width="1.1"/>
<line x1="66" y1="383.5" x2="260.5" y2="302.7" stroke="#2a8a2a" stroke-width="1.1"/>
<line x1="48.3" y1="377.3" x2="260.5" y2="376" stroke="#a060ff" stroke-width="1.6"/>
</g>
<circle cx="48.3" cy="377.3" r="2.0" fill="#8a2cff" stroke="#8a2cff" stroke-width="0.4"/>
<circle cx="47.8" cy="376.8" r="0.84" fill="#fff" fill-opacity="0.4"/>
<circle cx="74.82" cy="377.3" r="2.0" fill="#8a2cff" stroke="#8a2cff" stroke-width="0.4"/>
<circle cx="74.32" cy="376.8" r="0.84" fill="#fff" fill-opacity="0.4"/>
<circle cx="101.35" cy="377.3" r="2.0" fill="#8a2cff" stroke="#8a2cff" stroke-width="0.4"/>
<circle cx="100.85" cy="376.8" r="0.84" fill="#fff" fill-opacity="0.4"/>
<circle cx="119.03" cy="377.3" r="2.0" fill="#8a2cff" stroke="#8a2cff" stroke-width="0.4"/>
<circle cx="118.53" cy="376.8" r="0.84" fill="#fff" fill-opacity="0.4"/>
<circle cx="136.71" cy="377.14" r="2.0" fill="#8a2cff" stroke="#8a2cff" stroke-width="0.4"/>
<circle cx="136.21" cy="376.64" r="0.84" fill="#fff" fill-opacity="0.4"/>
<circle cx="154.4" cy="377.03" r="2.0" fill="#8a2cff" stroke="#8a2cff" stroke-width="0.4"/>
<circle cx="153.9" cy="376.53" r="0.84" fill="#fff" fill-opacity="0.4"/>
<circle cx="172.08" cy="376.87" r="2.0" fill="#8a2cff" stroke="#8a2cff" stroke-width="0.4"/>
<circle cx="171.58" cy="376.37" r="0.84" fill="#fff" fill-opacity="0.4"/>
<circle cx="189.76" cy="376.76" r="2.0" fill="#8a2cff" stroke="#8a2cff" stroke-width="0.4"/>
<circle cx="189.26" cy="376.26" r="0.84" fill="#fff" fill-opacity="0.4"/>
<circle cx="207.45" cy="376.66" r="2.0" fill="#8a2cff" stroke="#8a2cff" stroke-width="0.4"/>
<circle cx="206.95" cy="376.16" r="0.84" fill="#fff" fill-opacity="0.4"/>
<circle cx="225.13" cy="376.5" r="2.0" fill="#8a2cff" stroke="#8a2cff" stroke-width="0.4"/>
<circle cx="224.63" cy="376" r="0.84" fill="#fff" fill-opacity="0.4"/>
<circle cx="242.81" cy="376.33" r="2.0" fill="#8a2cff" stroke="#8a2cff" stroke-width="0.4"/>
<circle cx="242.31" cy="375.83" r="0.84" fill="#fff" fill-opacity="0.4"/>
<circle cx="260.5" cy="376.12" r="2.0" fill="#8a2cff" stroke="#8a2cff" stroke-width="0.4"/>
<circle cx="260" cy="375.62" r="0.84" fill="#fff" fill-opacity="0.4"/>
<circle cx="48.3" cy="377.3" r="2.0" fill="#2a8a2a" stroke="#2a8a2a" stroke-width="0.4"/>
<circle cx="47.8" cy="376.8" r="0.84" fill="#fff" fill-opacity="0.4"/>
<circle cx="74.82" cy="373.55" r="2.0" fill="#2a8a2a" stroke="#2a8a2a" stroke-width="0.4"/>
<circle cx="74.32" cy="373.05" r="0.84" fill="#fff" fill-opacity="0.4"/>
<circle cx="101.35" cy="370.01" r="2.0" fill="#2a8a2a" stroke="#2a8a2a" stroke-width="0.4"/>
<circle cx="100.85" cy="369.51" r="0.84" fill="#fff" fill-opacity="0.4"/>
<circle cx="119.03" cy="367.11" r="2.0" fill="#2a8a2a" stroke="#2a8a2a" stroke-width="0.4"/>
<circle cx="118.53" cy="366.61" r="0.84" fill="#fff" fill-opacity="0.4"/>
<circle cx="136.71" cy="364.16" r="2.0" fill="#2a8a2a" stroke="#2a8a2a" stroke-width="0.4"/>
<circle cx="136.21" cy="363.66" r="0.84" fill="#fff" fill-opacity="0.4"/>
<circle cx="154.4" cy="352.63" r="2.0" fill="#2a8a2a" stroke="#2a8a2a" stroke-width="0.4"/>
<circle cx="153.9" cy="352.13" r="0.84" fill="#fff" fill-opacity="0.4"/>
<circle cx="172.08" cy="343.51" r="2.0" fill="#2a8a2a" stroke="#2a8a2a" stroke-width="0.4"/>
<circle cx="171.58" cy="343.01" r="0.84" fill="#fff" fill-opacity="0.4"/>
<circle cx="189.76" cy="334.4" r="2.0" fill="#2a8a2a" stroke="#2a8a2a" stroke-width="0.4"/>
<circle cx="189.26" cy="333.9" r="0.84" fill="#fff" fill-opacity="0.4"/>
<circle cx="207.45" cy="329.57" r="2.0" fill="#2a8a2a" stroke="#2a8a2a" stroke-width="0.4"/>
<circle cx="206.95" cy="329.07" r="0.84" fill="#fff" fill-opacity="0.4"/>
<circle cx="225.13" cy="320.45" r="2.0" fill="#2a8a2a" stroke="#2a8a2a" stroke-width="0.4"/>
<circle cx="224.63" cy="319.95" r="0.84" fill="#fff" fill-opacity="0.4"/>
<circle cx="242.81" cy="301.15" r="2.0" fill="#2a8a2a" stroke="#2a8a2a" stroke-width="0.4"/>
<circle cx="242.31" cy="300.65" r="0.84" fill="#fff" fill-opacity="0.4"/>
<circle cx="260.5" cy="290.96" r="2.0" fill="#2a8a2a" stroke="#2a8a2a" stroke-width="0.4"/>
<circle cx="260" cy="290.46" r="0.84" fill="#fff" fill-opacity="0.4"/>
<circle cx="48.3" cy="377.3" r="2.0" fill="#ff2a90" stroke="#ff2a90" stroke-width="0.4"/>
<circle cx="47.8" cy="376.8" r="0.84" fill="#fff" fill-opacity="0.4"/>
<circle cx="74.82" cy="371.62" r="2.0" fill="#ff2a90" stroke="#ff2a90" stroke-width="0.4"/>
<circle cx="74.32" cy="371.12" r="0.84" fill="#fff" fill-opacity="0.4"/>
<circle cx="101.35" cy="366.04" r="2.0" fill="#ff2a90" stroke="#ff2a90" stroke-width="0.4"/>
<circle cx="100.85" cy="365.54" r="0.84" fill="#fff" fill-opacity="0.4"/>
<circle cx="119.03" cy="358.53" r="2.0" fill="#ff2a90" stroke="#ff2a90" stroke-width="0.4"/>
<circle cx="118.53" cy="358.03" r="0.84" fill="#fff" fill-opacity="0.4"/>
<circle cx="136.71" cy="349.95" r="2.0" fill="#ff2a90" stroke="#ff2a90" stroke-width="0.4"/>
<circle cx="136.21" cy="349.45" r="0.84" fill="#fff" fill-opacity="0.4"/>
<circle cx="154.4" cy="339.22" r="2.0" fill="#ff2a90" stroke="#ff2a90" stroke-width="0.4"/>
<circle cx="153.9" cy="338.72" r="0.84" fill="#fff" fill-opacity="0.4"/>
<circle cx="172.08" cy="330.11" r="2.0" fill="#ff2a90" stroke="#ff2a90" stroke-width="0.4"/>
<circle cx="171.58" cy="329.61" r="0.84" fill="#fff" fill-opacity="0.4"/>
<circle cx="189.76" cy="317.77" r="2.0" fill="#ff2a90" stroke="#ff2a90" stroke-width="0.4"/>
<circle cx="189.26" cy="317.27" r="0.84" fill="#fff" fill-opacity="0.4"/>
<circle cx="207.45" cy="305.97" r="2.0" fill="#ff2a90" stroke="#ff2a90" stroke-width="0.4"/>
<circle cx="206.95" cy="305.47" r="0.84" fill="#fff" fill-opacity="0.4"/>
<circle cx="225.13" cy="282.37" r="2.0" fill="#ff2a90" stroke="#ff2a90" stroke-width="0.4"/>
<circle cx="224.63" cy="281.87" r="0.84" fill="#fff" fill-opacity="0.4"/>
<circle cx="242.81" cy="262.53" r="2.0" fill="#ff2a90" stroke="#ff2a90" stroke-width="0.4"/>
<circle cx="242.31" cy="262.03" r="0.84" fill="#fff" fill-opacity="0.4"/>
<circle cx="260.5" cy="242.69" r="2.0" fill="#ff2a90" stroke="#ff2a90" stroke-width="0.4"/>
<circle cx="260" cy="242.19" r="0.84" fill="#fff" fill-opacity="0.4"/>
<circle cx="48.3" cy="377.3" r="2.0" fill="#8a8a1e" stroke="#8a8a1e" stroke-width="0.4"/>
<circle cx="47.8" cy="376.8" r="0.84" fill="#fff" fill-opacity="0.4"/>
<circle cx="74.82" cy="365.5" r="2.0" fill="#8a8a1e" stroke="#8a8a1e" stroke-width="0.4"/>
<circle cx="74.32" cy="365" r="0.84" fill="#fff" fill-opacity="0.4"/>
<circle cx="101.35" cy="337.61" r="2.0" fill="#8a8a1e" stroke="#8a8a1e" stroke-width="0.4"/>
<circle cx="100.85" cy="337.11" r="0.84" fill="#fff" fill-opacity="0.4"/>
<circle cx="119.03" cy="332.79" r="2.0" fill="#8a8a1e" stroke="#8a8a1e" stroke-width="0.4"/>
<circle cx="118.53" cy="332.29" r="0.84" fill="#fff" fill-opacity="0.4"/>
<circle cx="136.71" cy="325.82" r="2.0" fill="#8a8a1e" stroke="#8a8a1e" stroke-width="0.4"/>
<circle cx="136.21" cy="325.32" r="0.84" fill="#fff" fill-opacity="0.4"/>
<circle cx="154.4" cy="319.92" r="2.0" fill="#8a8a1e" stroke="#8a8a1e" stroke-width="0.4"/>
<circle cx="153.9" cy="319.42" r="0.84" fill="#fff" fill-opacity="0.4"/>
<circle cx="172.08" cy="298.46" r="2.0" fill="#8a8a1e" stroke="#8a8a1e" stroke-width="0.4"/>
<circle cx="171.58" cy="297.96" r="0.84" fill="#fff" fill-opacity="0.4"/>
<circle cx="189.76" cy="289.61" r="2.0" fill="#8a8a1e" stroke="#8a8a1e" stroke-width="0.4"/>
<circle cx="189.26" cy="289.11" r="0.84" fill="#fff" fill-opacity="0.4"/>
<circle cx="207.45" cy="272.72" r="2.0" fill="#8a8a1e" stroke="#8a8a1e" stroke-width="0.4"/>
<circle cx="206.95" cy="272.22" r="0.84" fill="#fff" fill-opacity="0.4"/>
<circle cx="225.13" cy="262.53" r="2.0" fill="#8a8a1e" stroke="#8a8a1e" stroke-width="0.4"/>
<circle cx="224.63" cy="262.03" r="0.84" fill="#fff" fill-opacity="0.4"/>
<circle cx="242.81" cy="249.12" r="2.0" fill="#8a8a1e" stroke="#8a8a1e" stroke-width="0.4"/>
<circle cx="242.31" cy="248.62" r="0.84" fill="#fff" fill-opacity="0.4"/>
<circle cx="260.5" cy="236.25" r="2.0" fill="#8a8a1e" stroke="#8a8a1e" stroke-width="0.4"/>
<circle cx="260" cy="235.75" r="0.84" fill="#fff" fill-opacity="0.4"/>
<rect x="45" y="216.2" width="224.1" height="166.8" fill="none" stroke="#000" stroke-width="1.45"/>
<line x1="48.3" y1="383" x2="48.3" y2="386.2" stroke="#000" stroke-width="1.3"/>
<text x="48.3" y="396.6" font-size="10" text-anchor="middle" fill="#000" font-weight="bold">-30</text>
<line x1="74.82" y1="383" x2="74.82" y2="386.2" stroke="#000" stroke-width="1.3"/>
<text x="74.82" y="396.6" font-size="10" text-anchor="middle" fill="#000" font-weight="bold">-15</text>
<line x1="101.35" y1="383" x2="101.35" y2="386.2" stroke="#000" stroke-width="1.3"/>
<text x="101.35" y="396.6" font-size="10" text-anchor="middle" fill="#000" font-weight="bold">0</text>
<line x1="127.87" y1="383" x2="127.87" y2="386.2" stroke="#000" stroke-width="1.3"/>
<text x="127.87" y="396.6" font-size="10" text-anchor="middle" fill="#000" font-weight="bold">15</text>
<line x1="154.4" y1="383" x2="154.4" y2="386.2" stroke="#000" stroke-width="1.3"/>
<text x="154.4" y="396.6" font-size="10" text-anchor="middle" fill="#000" font-weight="bold">30</text>
<line x1="180.92" y1="383" x2="180.92" y2="386.2" stroke="#000" stroke-width="1.3"/>
<text x="180.92" y="396.6" font-size="10" text-anchor="middle" fill="#000" font-weight="bold">45</text>
<line x1="207.45" y1="383" x2="207.45" y2="386.2" stroke="#000" stroke-width="1.3"/>
<text x="207.45" y="396.6" font-size="10" text-anchor="middle" fill="#000" font-weight="bold">60</text>
<line x1="233.97" y1="383" x2="233.97" y2="386.2" stroke="#000" stroke-width="1.3"/>
<text x="233.97" y="396.6" font-size="10" text-anchor="middle" fill="#000" font-weight="bold">75</text>
<line x1="260.5" y1="383" x2="260.5" y2="386.2" stroke="#000" stroke-width="1.3"/>
<text x="260.5" y="396.6" font-size="10" text-anchor="middle" fill="#000" font-weight="bold">90</text>
<line x1="41.8" y1="377.3" x2="45" y2="377.3" stroke="#000" stroke-width="1.3"/>
<text x="39.2" y="380.6" font-size="9.6" text-anchor="end" fill="#000" font-weight="bold">0.0</text>
<line x1="41.8" y1="350.49" x2="45" y2="350.49" stroke="#000" stroke-width="1.3"/>
<text x="39.2" y="353.79" font-size="9.6" text-anchor="end" fill="#000" font-weight="bold">0.5</text>
<line x1="41.8" y1="323.67" x2="45" y2="323.67" stroke="#000" stroke-width="1.3"/>
<text x="39.2" y="326.97" font-size="9.6" text-anchor="end" fill="#000" font-weight="bold">1.0</text>
<line x1="41.8" y1="296.86" x2="45" y2="296.86" stroke="#000" stroke-width="1.3"/>
<text x="39.2" y="300.16" font-size="9.6" text-anchor="end" fill="#000" font-weight="bold">1.5</text>
<line x1="41.8" y1="270.04" x2="45" y2="270.04" stroke="#000" stroke-width="1.3"/>
<text x="39.2" y="273.34" font-size="9.6" text-anchor="end" fill="#000" font-weight="bold">2.0</text>
<line x1="41.8" y1="243.22" x2="45" y2="243.22" stroke="#000" stroke-width="1.3"/>
<text x="39.2" y="246.53" font-size="9.6" text-anchor="end" fill="#000" font-weight="bold">2.5</text>
<line x1="41.8" y1="216.41" x2="45" y2="216.41" stroke="#000" stroke-width="1.3"/>
<text x="39.2" y="219.71" font-size="9.6" text-anchor="end" fill="#000" font-weight="bold">3.0</text>
<text x="7.5" y="205.2" font-size="16.5" text-anchor="start" fill="#000" font-weight="bold">(c)</text>
<text x="0" y="0" font-size="12" font-weight="bold" text-anchor="middle" transform="translate(20.1 308) rotate(-90)">ln(C/C<tspan font-size="9" dy="1.2">0</tspan><tspan dy="-1.2">)</tspan></text>
<text x="156.9" y="414.8" font-size="12.4" text-anchor="middle" fill="#000" font-weight="bold" letter-spacing="0.1">Irradiation time (min)</text>
<line x1="376.3" y1="227.2" x2="376.3" y2="386.5" stroke="#111" stroke-width="1.5" stroke-dasharray="6.2 5.38"/>
<polyline points="321.5,233.6 348.91,264.03 376.32,313.72 394.6,319.84 412.88,327.63 431.15,334.06 449.43,351.03 467.7,356.38 485.98,364.64 504.25,368.3 522.52,372.43 540.8,375.34" fill="none" stroke="#8a2cff" stroke-width="1.3" stroke-linejoin="round" stroke-linecap="round"/>
<circle cx="321.5" cy="233.6" r="1.4" fill="#8a2cff" stroke="#8a2cff" stroke-width="0.8"/>
<circle cx="321.5" cy="233.6" r="0.70" fill="#fff" fill-opacity="0.45"/>
<circle cx="348.91" cy="264.03" r="1.4" fill="#8a2cff" stroke="#8a2cff" stroke-width="0.8"/>
<circle cx="348.91" cy="264.03" r="0.70" fill="#fff" fill-opacity="0.45"/>
<circle cx="376.32" cy="313.72" r="1.4" fill="#8a2cff" stroke="#8a2cff" stroke-width="0.8"/>
<circle cx="376.32" cy="313.72" r="0.70" fill="#fff" fill-opacity="0.45"/>
<circle cx="394.6" cy="319.84" r="1.4" fill="#8a2cff" stroke="#8a2cff" stroke-width="0.8"/>
<circle cx="394.6" cy="319.84" r="0.70" fill="#fff" fill-opacity="0.45"/>
<circle cx="412.88" cy="327.63" r="1.4" fill="#8a2cff" stroke="#8a2cff" stroke-width="0.8"/>
<circle cx="412.88" cy="327.63" r="0.70" fill="#fff" fill-opacity="0.45"/>
<circle cx="431.15" cy="334.06" r="1.4" fill="#8a2cff" stroke="#8a2cff" stroke-width="0.8"/>
<circle cx="431.15" cy="334.06" r="0.70" fill="#fff" fill-opacity="0.45"/>
<circle cx="449.43" cy="351.03" r="1.4" fill="#8a2cff" stroke="#8a2cff" stroke-width="0.8"/>
<circle cx="449.43" cy="351.03" r="0.70" fill="#fff" fill-opacity="0.45"/>
<circle cx="467.7" cy="356.38" r="1.4" fill="#8a2cff" stroke="#8a2cff" stroke-width="0.8"/>
<circle cx="467.7" cy="356.38" r="0.70" fill="#fff" fill-opacity="0.45"/>
<circle cx="485.98" cy="364.64" r="1.4" fill="#8a2cff" stroke="#8a2cff" stroke-width="0.8"/>
<circle cx="485.98" cy="364.64" r="0.70" fill="#fff" fill-opacity="0.45"/>
<circle cx="504.25" cy="368.3" r="1.4" fill="#8a2cff" stroke="#8a2cff" stroke-width="0.8"/>
<circle cx="504.25" cy="368.3" r="0.70" fill="#fff" fill-opacity="0.45"/>
<circle cx="522.52" cy="372.43" r="1.4" fill="#8a2cff" stroke="#8a2cff" stroke-width="0.8"/>
<circle cx="522.52" cy="372.43" r="0.70" fill="#fff" fill-opacity="0.45"/>
<circle cx="540.8" cy="375.34" r="1.4" fill="#8a2cff" stroke="#8a2cff" stroke-width="0.8"/>
<circle cx="540.8" cy="375.34" r="0.70" fill="#fff" fill-opacity="0.45"/>
<polyline points="321.5,233.6 348.91,258.22 376.32,276.26 394.6,290.94 412.88,311.27 431.15,326.26 449.43,341.09 467.7,349.35 485.98,354.85 504.25,362.95 522.52,365.86 540.8,369.53" fill="none" stroke="#1e8c1e" stroke-width="1.3" stroke-linejoin="round" stroke-linecap="round"/>
<circle cx="321.5" cy="233.6" r="1.4" fill="#1e8c1e" stroke="#1e8c1e" stroke-width="0.8"/>
<circle cx="321.5" cy="233.6" r="0.70" fill="#fff" fill-opacity="0.45"/>
<circle cx="348.91" cy="258.22" r="1.4" fill="#1e8c1e" stroke="#1e8c1e" stroke-width="0.8"/>
<circle cx="348.91" cy="258.22" r="0.70" fill="#fff" fill-opacity="0.45"/>
<circle cx="376.32" cy="276.26" r="1.4" fill="#1e8c1e" stroke="#1e8c1e" stroke-width="0.8"/>
<circle cx="376.32" cy="276.26" r="0.70" fill="#fff" fill-opacity="0.45"/>
<circle cx="394.6" cy="290.94" r="1.4" fill="#1e8c1e" stroke="#1e8c1e" stroke-width="0.8"/>
<circle cx="394.6" cy="290.94" r="0.70" fill="#fff" fill-opacity="0.45"/>
<circle cx="412.88" cy="311.27" r="1.4" fill="#1e8c1e" stroke="#1e8c1e" stroke-width="0.8"/>
<circle cx="412.88" cy="311.27" r="0.70" fill="#fff" fill-opacity="0.45"/>
<circle cx="431.15" cy="326.26" r="1.4" fill="#1e8c1e" stroke="#1e8c1e" stroke-width="0.8"/>
<circle cx="431.15" cy="326.26" r="0.70" fill="#fff" fill-opacity="0.45"/>
<circle cx="449.43" cy="341.09" r="1.4" fill="#1e8c1e" stroke="#1e8c1e" stroke-width="0.8"/>
<circle cx="449.43" cy="341.09" r="0.70" fill="#fff" fill-opacity="0.45"/>
<circle cx="467.7" cy="349.35" r="1.4" fill="#1e8c1e" stroke="#1e8c1e" stroke-width="0.8"/>
<circle cx="467.7" cy="349.35" r="0.70" fill="#fff" fill-opacity="0.45"/>
<circle cx="485.98" cy="354.85" r="1.4" fill="#1e8c1e" stroke="#1e8c1e" stroke-width="0.8"/>
<circle cx="485.98" cy="354.85" r="0.70" fill="#fff" fill-opacity="0.45"/>
<circle cx="504.25" cy="362.95" r="1.4" fill="#1e8c1e" stroke="#1e8c1e" stroke-width="0.8"/>
<circle cx="504.25" cy="362.95" r="0.70" fill="#fff" fill-opacity="0.45"/>
<circle cx="522.52" cy="365.86" r="1.4" fill="#1e8c1e" stroke="#1e8c1e" stroke-width="0.8"/>
<circle cx="522.52" cy="365.86" r="0.70" fill="#fff" fill-opacity="0.45"/>
<circle cx="540.8" cy="369.53" r="1.4" fill="#1e8c1e" stroke="#1e8c1e" stroke-width="0.8"/>
<circle cx="540.8" cy="369.53" r="0.70" fill="#fff" fill-opacity="0.45"/>
<polyline points="321.5,233.6 348.91,248.28 376.32,262.65 394.6,278.55 412.88,299.19 431.15,318.15 449.43,330.23 467.7,339.25 485.98,346.44 504.25,356.84 522.52,362.49 540.8,366.62" fill="none" stroke="#ff1a8c" stroke-width="1.3" stroke-linejoin="round" stroke-linecap="round"/>
<circle cx="321.5" cy="233.6" r="1.4" fill="#ff1a8c" stroke="#ff1a8c" stroke-width="0.8"/>
<circle cx="321.5" cy="233.6" r="0.70" fill="#fff" fill-opacity="0.45"/>
<circle cx="348.91" cy="248.28" r="1.4" fill="#ff1a8c" stroke="#ff1a8c" stroke-width="0.8"/>
<circle cx="348.91" cy="248.28" r="0.70" fill="#fff" fill-opacity="0.45"/>
<circle cx="376.32" cy="262.65" r="1.4" fill="#ff1a8c" stroke="#ff1a8c" stroke-width="0.8"/>
<circle cx="376.32" cy="262.65" r="0.70" fill="#fff" fill-opacity="0.45"/>
<circle cx="394.6" cy="278.55" r="1.4" fill="#ff1a8c" stroke="#ff1a8c" stroke-width="0.8"/>
<circle cx="394.6" cy="278.55" r="0.70" fill="#fff" fill-opacity="0.45"/>
<circle cx="412.88" cy="299.19" r="1.4" fill="#ff1a8c" stroke="#ff1a8c" stroke-width="0.8"/>
<circle cx="412.88" cy="299.19" r="0.70" fill="#fff" fill-opacity="0.45"/>
<circle cx="431.15" cy="318.15" r="1.4" fill="#ff1a8c" stroke="#ff1a8c" stroke-width="0.8"/>
<circle cx="431.15" cy="318.15" r="0.70" fill="#fff" fill-opacity="0.45"/>
<circle cx="449.43" cy="330.23" r="1.4" fill="#ff1a8c" stroke="#ff1a8c" stroke-width="0.8"/>
<circle cx="449.43" cy="330.23" r="0.70" fill="#fff" fill-opacity="0.45"/>
<circle cx="467.7" cy="339.25" r="1.4" fill="#ff1a8c" stroke="#ff1a8c" stroke-width="0.8"/>
<circle cx="467.7" cy="339.25" r="0.70" fill="#fff" fill-opacity="0.45"/>
<circle cx="485.98" cy="346.44" r="1.4" fill="#ff1a8c" stroke="#ff1a8c" stroke-width="0.8"/>
<circle cx="485.98" cy="346.44" r="0.70" fill="#fff" fill-opacity="0.45"/>
<circle cx="504.25" cy="356.84" r="1.4" fill="#ff1a8c" stroke="#ff1a8c" stroke-width="0.8"/>
<circle cx="504.25" cy="356.84" r="0.70" fill="#fff" fill-opacity="0.45"/>
<circle cx="522.52" cy="362.49" r="1.4" fill="#ff1a8c" stroke="#ff1a8c" stroke-width="0.8"/>
<circle cx="522.52" cy="362.49" r="0.70" fill="#fff" fill-opacity="0.45"/>
<circle cx="540.8" cy="366.62" r="1.4" fill="#ff1a8c" stroke="#ff1a8c" stroke-width="0.8"/>
<circle cx="540.8" cy="366.62" r="0.70" fill="#fff" fill-opacity="0.45"/>
<rect x="318.6" y="218.2" width="225.4" height="168.3" fill="none" stroke="#000" stroke-width="1.45"/>
<line x1="321.5" y1="386.5" x2="321.5" y2="389.7" stroke="#000" stroke-width="1.3"/>
<text x="321.5" y="400.4" font-size="10" text-anchor="middle" fill="#000" font-weight="bold">-30</text>
<line x1="348.91" y1="386.5" x2="348.91" y2="389.7" stroke="#000" stroke-width="1.3"/>
<text x="348.91" y="400.4" font-size="10" text-anchor="middle" fill="#000" font-weight="bold">-15</text>
<line x1="376.32" y1="386.5" x2="376.32" y2="389.7" stroke="#000" stroke-width="1.3"/>
<text x="376.32" y="400.4" font-size="10" text-anchor="middle" fill="#000" font-weight="bold">0</text>
<line x1="403.74" y1="386.5" x2="403.74" y2="389.7" stroke="#000" stroke-width="1.3"/>
<text x="403.74" y="400.4" font-size="10" text-anchor="middle" fill="#000" font-weight="bold">15</text>
<line x1="431.15" y1="386.5" x2="431.15" y2="389.7" stroke="#000" stroke-width="1.3"/>
<text x="431.15" y="400.4" font-size="10" text-anchor="middle" fill="#000" font-weight="bold">30</text>
<line x1="458.56" y1="386.5" x2="458.56" y2="389.7" stroke="#000" stroke-width="1.3"/>
<text x="458.56" y="400.4" font-size="10" text-anchor="middle" fill="#000" font-weight="bold">45</text>
<line x1="485.98" y1="386.5" x2="485.98" y2="389.7" stroke="#000" stroke-width="1.3"/>
<text x="485.98" y="400.4" font-size="10" text-anchor="middle" fill="#000" font-weight="bold">60</text>
<line x1="513.39" y1="386.5" x2="513.39" y2="389.7" stroke="#000" stroke-width="1.3"/>
<text x="513.39" y="400.4" font-size="10" text-anchor="middle" fill="#000" font-weight="bold">75</text>
<line x1="540.8" y1="386.5" x2="540.8" y2="389.7" stroke="#000" stroke-width="1.3"/>
<text x="540.8" y="400.4" font-size="10" text-anchor="middle" fill="#000" font-weight="bold">90</text>
<line x1="315.4" y1="386.5" x2="318.6" y2="386.5" stroke="#000" stroke-width="1.3"/>
<text x="313" y="389.9" font-size="10" text-anchor="end" fill="#000" font-weight="bold">0.0</text>
<line x1="315.4" y1="355.92" x2="318.6" y2="355.92" stroke="#000" stroke-width="1.3"/>
<text x="313" y="359.32" font-size="10" text-anchor="end" fill="#000" font-weight="bold">0.2</text>
<line x1="315.4" y1="325.34" x2="318.6" y2="325.34" stroke="#000" stroke-width="1.3"/>
<text x="313" y="328.74" font-size="10" text-anchor="end" fill="#000" font-weight="bold">0.4</text>
<line x1="315.4" y1="294.76" x2="318.6" y2="294.76" stroke="#000" stroke-width="1.3"/>
<text x="313" y="298.16" font-size="10" text-anchor="end" fill="#000" font-weight="bold">0.6</text>
<line x1="315.4" y1="264.18" x2="318.6" y2="264.18" stroke="#000" stroke-width="1.3"/>
<text x="313" y="267.58" font-size="10" text-anchor="end" fill="#000" font-weight="bold">0.8</text>
<line x1="315.4" y1="233.6" x2="318.6" y2="233.6" stroke="#000" stroke-width="1.3"/>
<text x="313" y="237" font-size="10" text-anchor="end" fill="#000" font-weight="bold">1.0</text>
<text x="281" y="219.4" font-size="17" text-anchor="start" fill="#000" font-weight="bold">(d)</text>
<text x="0" y="0" font-size="13.5" font-weight="bold" text-anchor="middle" transform="translate(292.4 310.7) rotate(-90)">C/C<tspan font-size="11" dy="3.3">0</tspan></text>
<text x="431.5" y="419.2" font-size="12.4" text-anchor="middle" fill="#000" font-weight="bold" letter-spacing="0.1">Irradiation time (min)</text>
<text x="333.9" y="377.6" font-size="8.5" text-anchor="start" fill="#000" font-weight="bold">Light off</text>
<text x="389.1" y="377.6" font-size="8.5" text-anchor="start" fill="#000" font-weight="bold">Light on</text>
<line x1="488.9" y1="233.5" x2="508" y2="233.5" stroke="#8a2cff" stroke-width="1.4"/>
<circle cx="498.45" cy="233.5" r="1.4" fill="#8a2cff" stroke="#8a2cff" stroke-width="0.8"/>
<circle cx="498.45" cy="233.5" r="0.70" fill="#fff" fill-opacity="0.35"/>
<text x="533.4" y="236.4" font-size="8.5" text-anchor="end" fill="#000" font-weight="bold">5 µM</text>
<line x1="488.9" y1="244.7" x2="508" y2="244.7" stroke="#1e8c1e" stroke-width="1.4"/>
<circle cx="498.45" cy="244.7" r="1.4" fill="#1e8c1e" stroke="#1e8c1e" stroke-width="0.8"/>
<circle cx="498.45" cy="244.7" r="0.70" fill="#fff" fill-opacity="0.35"/>
<text x="533.4" y="247.6" font-size="8.5" text-anchor="end" fill="#000" font-weight="bold">10 µM</text>
<line x1="488.9" y1="255.5" x2="508" y2="255.5" stroke="#ff1a8c" stroke-width="1.4"/>
<circle cx="498.45" cy="255.5" r="1.4" fill="#ff1a8c" stroke="#ff1a8c" stroke-width="0.8"/>
<circle cx="498.45" cy="255.5" r="0.70" fill="#fff" fill-opacity="0.35"/>
<text x="533.4" y="258.4" font-size="8.5" text-anchor="end" fill="#000" font-weight="bold">15 µM</text>
<line x1="104.9" y1="438.7" x2="104.9" y2="594.7" stroke="#111" stroke-width="1.5" stroke-dasharray="6.2 5.38"/>
<polyline points="51.1,444.9 77.88,474.71 104.65,523.4 122.5,529.39 140.35,537.03 158.2,543.32 176.05,559.95 193.9,565.19 211.75,573.28 229.6,576.87 247.45,580.92 265.3,583.76" fill="none" stroke="#8a2cff" stroke-width="1.3" stroke-linejoin="round" stroke-linecap="round"/>
<circle cx="51.1" cy="444.9" r="1.4" fill="#8a2cff" stroke="#8a2cff" stroke-width="0.8"/>
<circle cx="51.1" cy="444.9" r="0.70" fill="#fff" fill-opacity="0.45"/>
<circle cx="77.88" cy="474.71" r="1.4" fill="#8a2cff" stroke="#8a2cff" stroke-width="0.8"/>
<circle cx="77.88" cy="474.71" r="0.70" fill="#fff" fill-opacity="0.45"/>
<circle cx="104.65" cy="523.4" r="1.4" fill="#8a2cff" stroke="#8a2cff" stroke-width="0.8"/>
<circle cx="104.65" cy="523.4" r="0.70" fill="#fff" fill-opacity="0.45"/>
<circle cx="122.5" cy="529.39" r="1.4" fill="#8a2cff" stroke="#8a2cff" stroke-width="0.8"/>
<circle cx="122.5" cy="529.39" r="0.70" fill="#fff" fill-opacity="0.45"/>
<circle cx="140.35" cy="537.03" r="1.4" fill="#8a2cff" stroke="#8a2cff" stroke-width="0.8"/>
<circle cx="140.35" cy="537.03" r="0.70" fill="#fff" fill-opacity="0.45"/>
<circle cx="158.2" cy="543.32" r="1.4" fill="#8a2cff" stroke="#8a2cff" stroke-width="0.8"/>
<circle cx="158.2" cy="543.32" r="0.70" fill="#fff" fill-opacity="0.45"/>
<circle cx="176.05" cy="559.95" r="1.4" fill="#8a2cff" stroke="#8a2cff" stroke-width="0.8"/>
<circle cx="176.05" cy="559.95" r="0.70" fill="#fff" fill-opacity="0.45"/>
<circle cx="193.9" cy="565.19" r="1.4" fill="#8a2cff" stroke="#8a2cff" stroke-width="0.8"/>
<circle cx="193.9" cy="565.19" r="0.70" fill="#fff" fill-opacity="0.45"/>
<circle cx="211.75" cy="573.28" r="1.4" fill="#8a2cff" stroke="#8a2cff" stroke-width="0.8"/>
<circle cx="211.75" cy="573.28" r="0.70" fill="#fff" fill-opacity="0.45"/>
<circle cx="229.6" cy="576.87" r="1.4" fill="#8a2cff" stroke="#8a2cff" stroke-width="0.8"/>
<circle cx="229.6" cy="576.87" r="0.70" fill="#fff" fill-opacity="0.45"/>
<circle cx="247.45" cy="580.92" r="1.4" fill="#8a2cff" stroke="#8a2cff" stroke-width="0.8"/>
<circle cx="247.45" cy="580.92" r="0.70" fill="#fff" fill-opacity="0.45"/>
<circle cx="265.3" cy="583.76" r="1.4" fill="#8a2cff" stroke="#8a2cff" stroke-width="0.8"/>
<circle cx="265.3" cy="583.76" r="0.70" fill="#fff" fill-opacity="0.45"/>
<polyline points="51.1,444.9 77.88,469.47 104.65,489.09 122.5,499.73 140.35,505.27 158.2,523.84 176.05,536.13 193.9,554.4 211.75,562.34 229.6,570.43 247.45,573.73 265.3,578.67" fill="none" stroke="#1e8c1e" stroke-width="1.3" stroke-linejoin="round" stroke-linecap="round"/>
<circle cx="51.1" cy="444.9" r="1.4" fill="#1e8c1e" stroke="#1e8c1e" stroke-width="0.8"/>
<circle cx="51.1" cy="444.9" r="0.70" fill="#fff" fill-opacity="0.45"/>
<circle cx="77.88" cy="469.47" r="1.4" fill="#1e8c1e" stroke="#1e8c1e" stroke-width="0.8"/>
<circle cx="77.88" cy="469.47" r="0.70" fill="#fff" fill-opacity="0.45"/>
<circle cx="104.65" cy="489.09" r="1.4" fill="#1e8c1e" stroke="#1e8c1e" stroke-width="0.8"/>
<circle cx="104.65" cy="489.09" r="0.70" fill="#fff" fill-opacity="0.45"/>
<circle cx="122.5" cy="499.73" r="1.4" fill="#1e8c1e" stroke="#1e8c1e" stroke-width="0.8"/>
<circle cx="122.5" cy="499.73" r="0.70" fill="#fff" fill-opacity="0.45"/>
<circle cx="140.35" cy="505.27" r="1.4" fill="#1e8c1e" stroke="#1e8c1e" stroke-width="0.8"/>
<circle cx="140.35" cy="505.27" r="0.70" fill="#fff" fill-opacity="0.45"/>
<circle cx="158.2" cy="523.84" r="1.4" fill="#1e8c1e" stroke="#1e8c1e" stroke-width="0.8"/>
<circle cx="158.2" cy="523.84" r="0.70" fill="#fff" fill-opacity="0.45"/>
<circle cx="176.05" cy="536.13" r="1.4" fill="#1e8c1e" stroke="#1e8c1e" stroke-width="0.8"/>
<circle cx="176.05" cy="536.13" r="0.70" fill="#fff" fill-opacity="0.45"/>
<circle cx="193.9" cy="554.4" r="1.4" fill="#1e8c1e" stroke="#1e8c1e" stroke-width="0.8"/>
<circle cx="193.9" cy="554.4" r="0.70" fill="#fff" fill-opacity="0.45"/>
<circle cx="211.75" cy="562.34" r="1.4" fill="#1e8c1e" stroke="#1e8c1e" stroke-width="0.8"/>
<circle cx="211.75" cy="562.34" r="0.70" fill="#fff" fill-opacity="0.45"/>
<circle cx="229.6" cy="570.43" r="1.4" fill="#1e8c1e" stroke="#1e8c1e" stroke-width="0.8"/>
<circle cx="229.6" cy="570.43" r="0.70" fill="#fff" fill-opacity="0.45"/>
<circle cx="247.45" cy="573.73" r="1.4" fill="#1e8c1e" stroke="#1e8c1e" stroke-width="0.8"/>
<circle cx="247.45" cy="573.73" r="0.70" fill="#fff" fill-opacity="0.45"/>
<circle cx="265.3" cy="578.67" r="1.4" fill="#1e8c1e" stroke="#1e8c1e" stroke-width="0.8"/>
<circle cx="265.3" cy="578.67" r="0.70" fill="#fff" fill-opacity="0.45"/>
<polyline points="51.1,444.9 77.88,455.69 104.65,465.42 122.5,472.01 140.35,482.95 158.2,491.94 176.05,517.4 193.9,541.52 211.75,552.61 229.6,562.34 247.45,567.74 265.3,572.53" fill="none" stroke="#ff1a8c" stroke-width="1.3" stroke-linejoin="round" stroke-linecap="round"/>
<circle cx="51.1" cy="444.9" r="1.4" fill="#ff1a8c" stroke="#ff1a8c" stroke-width="0.8"/>
<circle cx="51.1" cy="444.9" r="0.70" fill="#fff" fill-opacity="0.45"/>
<circle cx="77.88" cy="455.69" r="1.4" fill="#ff1a8c" stroke="#ff1a8c" stroke-width="0.8"/>
<circle cx="77.88" cy="455.69" r="0.70" fill="#fff" fill-opacity="0.45"/>
<circle cx="104.65" cy="465.42" r="1.4" fill="#ff1a8c" stroke="#ff1a8c" stroke-width="0.8"/>
<circle cx="104.65" cy="465.42" r="0.70" fill="#fff" fill-opacity="0.45"/>
<circle cx="122.5" cy="472.01" r="1.4" fill="#ff1a8c" stroke="#ff1a8c" stroke-width="0.8"/>
<circle cx="122.5" cy="472.01" r="0.70" fill="#fff" fill-opacity="0.45"/>
<circle cx="140.35" cy="482.95" r="1.4" fill="#ff1a8c" stroke="#ff1a8c" stroke-width="0.8"/>
<circle cx="140.35" cy="482.95" r="0.70" fill="#fff" fill-opacity="0.45"/>
<circle cx="158.2" cy="491.94" r="1.4" fill="#ff1a8c" stroke="#ff1a8c" stroke-width="0.8"/>
<circle cx="158.2" cy="491.94" r="0.70" fill="#fff" fill-opacity="0.45"/>
<circle cx="176.05" cy="517.4" r="1.4" fill="#ff1a8c" stroke="#ff1a8c" stroke-width="0.8"/>
<circle cx="176.05" cy="517.4" r="0.70" fill="#fff" fill-opacity="0.45"/>
<circle cx="193.9" cy="541.52" r="1.4" fill="#ff1a8c" stroke="#ff1a8c" stroke-width="0.8"/>
<circle cx="193.9" cy="541.52" r="0.70" fill="#fff" fill-opacity="0.45"/>
<circle cx="211.75" cy="552.61" r="1.4" fill="#ff1a8c" stroke="#ff1a8c" stroke-width="0.8"/>
<circle cx="211.75" cy="552.61" r="0.70" fill="#fff" fill-opacity="0.45"/>
<circle cx="229.6" cy="562.34" r="1.4" fill="#ff1a8c" stroke="#ff1a8c" stroke-width="0.8"/>
<circle cx="229.6" cy="562.34" r="0.70" fill="#fff" fill-opacity="0.45"/>
<circle cx="247.45" cy="567.74" r="1.4" fill="#ff1a8c" stroke="#ff1a8c" stroke-width="0.8"/>
<circle cx="247.45" cy="567.74" r="0.70" fill="#fff" fill-opacity="0.45"/>
<circle cx="265.3" cy="572.53" r="1.4" fill="#ff1a8c" stroke="#ff1a8c" stroke-width="0.8"/>
<circle cx="265.3" cy="572.53" r="0.70" fill="#fff" fill-opacity="0.45"/>
<rect x="48" y="429.9" width="221.1" height="164.8" fill="none" stroke="#000" stroke-width="1.45"/>
<line x1="51.1" y1="594.7" x2="51.1" y2="597.9" stroke="#000" stroke-width="1.3"/>
<text x="51.1" y="607.8" font-size="10" text-anchor="middle" fill="#000" font-weight="bold">-30</text>
<line x1="77.88" y1="594.7" x2="77.88" y2="597.9" stroke="#000" stroke-width="1.3"/>
<text x="77.88" y="607.8" font-size="10" text-anchor="middle" fill="#000" font-weight="bold">-15</text>
<line x1="104.65" y1="594.7" x2="104.65" y2="597.9" stroke="#000" stroke-width="1.3"/>
<text x="104.65" y="607.8" font-size="10" text-anchor="middle" fill="#000" font-weight="bold">0</text>
<line x1="131.43" y1="594.7" x2="131.43" y2="597.9" stroke="#000" stroke-width="1.3"/>
<text x="131.43" y="607.8" font-size="10" text-anchor="middle" fill="#000" font-weight="bold">15</text>
<line x1="158.2" y1="594.7" x2="158.2" y2="597.9" stroke="#000" stroke-width="1.3"/>
<text x="158.2" y="607.8" font-size="10" text-anchor="middle" fill="#000" font-weight="bold">30</text>
<line x1="184.97" y1="594.7" x2="184.97" y2="597.9" stroke="#000" stroke-width="1.3"/>
<text x="184.97" y="607.8" font-size="10" text-anchor="middle" fill="#000" font-weight="bold">45</text>
<line x1="211.75" y1="594.7" x2="211.75" y2="597.9" stroke="#000" stroke-width="1.3"/>
<text x="211.75" y="607.8" font-size="10" text-anchor="middle" fill="#000" font-weight="bold">60</text>
<line x1="238.52" y1="594.7" x2="238.52" y2="597.9" stroke="#000" stroke-width="1.3"/>
<text x="238.52" y="607.8" font-size="10" text-anchor="middle" fill="#000" font-weight="bold">75</text>
<line x1="265.3" y1="594.7" x2="265.3" y2="597.9" stroke="#000" stroke-width="1.3"/>
<text x="265.3" y="607.8" font-size="10" text-anchor="middle" fill="#000" font-weight="bold">90</text>
<line x1="44.8" y1="594.7" x2="48" y2="594.7" stroke="#000" stroke-width="1.3"/>
<text x="42.4" y="598.1" font-size="10" text-anchor="end" fill="#000" font-weight="bold">0.0</text>
<line x1="44.8" y1="564.74" x2="48" y2="564.74" stroke="#000" stroke-width="1.3"/>
<text x="42.4" y="568.14" font-size="10" text-anchor="end" fill="#000" font-weight="bold">0.2</text>
<line x1="44.8" y1="534.78" x2="48" y2="534.78" stroke="#000" stroke-width="1.3"/>
<text x="42.4" y="538.18" font-size="10" text-anchor="end" fill="#000" font-weight="bold">0.4</text>
<line x1="44.8" y1="504.82" x2="48" y2="504.82" stroke="#000" stroke-width="1.3"/>
<text x="42.4" y="508.22" font-size="10" text-anchor="end" fill="#000" font-weight="bold">0.6</text>
<line x1="44.8" y1="474.86" x2="48" y2="474.86" stroke="#000" stroke-width="1.3"/>
<text x="42.4" y="478.26" font-size="10" text-anchor="end" fill="#000" font-weight="bold">0.8</text>
<line x1="44.8" y1="444.9" x2="48" y2="444.9" stroke="#000" stroke-width="1.3"/>
<text x="42.4" y="448.3" font-size="10" text-anchor="end" fill="#000" font-weight="bold">1.0</text>
<text x="17.8" y="427.5" font-size="17" text-anchor="start" fill="#000" font-weight="bold">(e)</text>
<text x="0" y="0" font-size="13.5" font-weight="bold" text-anchor="middle" transform="translate(17.9 520.5) rotate(-90)">C/C<tspan font-size="11" dy="3.3">0</tspan></text>
<text x="158.1" y="626.6" font-size="12.4" text-anchor="middle" fill="#000" font-weight="bold" letter-spacing="0.1">Irradiation time (min)</text>
<text x="63.6" y="584.6" font-size="8.5" text-anchor="start" fill="#000" font-weight="bold">Light off</text>
<text x="113.3" y="584.6" font-size="8.5" text-anchor="start" fill="#000" font-weight="bold">Light on</text>
<line x1="215.7" y1="443.5" x2="234.1" y2="443.5" stroke="#8a2cff" stroke-width="1.4"/>
<circle cx="224.9" cy="443.5" r="1.4" fill="#8a2cff" stroke="#8a2cff" stroke-width="0.8"/>
<circle cx="224.9" cy="443.5" r="0.70" fill="#fff" fill-opacity="0.35"/>
<text x="236.1" y="446.1" font-size="8.3" text-anchor="start" fill="#000" font-weight="bold">20 mg</text>
<line x1="215.7" y1="454.5" x2="234.1" y2="454.5" stroke="#1e8c1e" stroke-width="1.4"/>
<circle cx="224.9" cy="454.5" r="1.4" fill="#1e8c1e" stroke="#1e8c1e" stroke-width="0.8"/>
<circle cx="224.9" cy="454.5" r="0.70" fill="#fff" fill-opacity="0.35"/>
<text x="236.1" y="457.1" font-size="8.3" text-anchor="start" fill="#000" font-weight="bold">30 mg</text>
<line x1="215.7" y1="465.1" x2="234.1" y2="465.1" stroke="#ff1a8c" stroke-width="1.4"/>
<circle cx="224.9" cy="465.1" r="1.4" fill="#ff1a8c" stroke="#ff1a8c" stroke-width="0.8"/>
<circle cx="224.9" cy="465.1" r="0.70" fill="#fff" fill-opacity="0.35"/>
<text x="236.1" y="467.7" font-size="8.3" text-anchor="start" fill="#000" font-weight="bold">40 mg</text>
<defs><linearGradient id="g0" x1="0" x2="1" y1="0" y2="0"><stop offset="0" stop-color="#4a4a08"/><stop offset="0.3" stop-color="#c8c830"/><stop offset="0.65" stop-color="#c8c830"/><stop offset="1" stop-color="#4a4a08"/></linearGradient><linearGradient id="g1" x1="0" x2="1" y1="0" y2="0"><stop offset="0" stop-color="#4a1a8a"/><stop offset="0.3" stop-color="#9a3aff"/><stop offset="0.65" stop-color="#9a3aff"/><stop offset="1" stop-color="#4a1a8a"/></linearGradient><linearGradient id="g2" x1="0" x2="1" y1="0" y2="0"><stop offset="0" stop-color="#164a16"/><stop offset="0.3" stop-color="#32a032"/><stop offset="0.65" stop-color="#32a032"/><stop offset="1" stop-color="#164a16"/></linearGradient><linearGradient id="g3" x1="0" x2="1" y1="0" y2="0"><stop offset="0" stop-color="#7a1a4a"/><stop offset="0.3" stop-color="#ff3aa0"/><stop offset="0.65" stop-color="#ff3aa0"/><stop offset="1" stop-color="#7a1a4a"/></linearGradient></defs>
<rect x="333.85" y="594.37" width="23" height="4.13" fill="url(#g0)" stroke="#111" stroke-width="1.2"/>
<rect x="390.3" y="486.28" width="23" height="112.22" fill="url(#g1)" stroke="#111" stroke-width="1.2"/>
<rect x="446.7" y="467.4" width="23" height="131.1" fill="url(#g2)" stroke="#111" stroke-width="1.2"/>
<rect x="503.35" y="463.26" width="23" height="135.24" fill="url(#g3)" stroke="#111" stroke-width="1.2"/>
<rect x="317.2" y="429.9" width="226.1" height="168.6" fill="none" stroke="#000" stroke-width="1.45"/>
<line x1="345.35" y1="598.5" x2="345.35" y2="602.1" stroke="#000" stroke-width="1.3"/>
<line x1="401.8" y1="598.5" x2="401.8" y2="602.1" stroke="#000" stroke-width="1.3"/>
<line x1="458.2" y1="598.5" x2="458.2" y2="602.1" stroke="#000" stroke-width="1.3"/>
<line x1="514.85" y1="598.5" x2="514.85" y2="602.1" stroke="#000" stroke-width="1.3"/>
<line x1="314" y1="598.5" x2="317.2" y2="598.5" stroke="#000" stroke-width="1.3"/>
<text x="311.6" y="601.9" font-size="10" text-anchor="end" fill="#000" font-weight="bold">0</text>
<line x1="314" y1="569.1" x2="317.2" y2="569.1" stroke="#000" stroke-width="1.3"/>
<text x="311.6" y="572.5" font-size="10" text-anchor="end" fill="#000" font-weight="bold">20</text>
<line x1="314" y1="539.7" x2="317.2" y2="539.7" stroke="#000" stroke-width="1.3"/>
<text x="311.6" y="543.1" font-size="10" text-anchor="end" fill="#000" font-weight="bold">40</text>
<line x1="314" y1="510.3" x2="317.2" y2="510.3" stroke="#000" stroke-width="1.3"/>
<text x="311.6" y="513.7" font-size="10" text-anchor="end" fill="#000" font-weight="bold">60</text>
<line x1="314" y1="480.9" x2="317.2" y2="480.9" stroke="#000" stroke-width="1.3"/>
<text x="311.6" y="484.3" font-size="10" text-anchor="end" fill="#000" font-weight="bold">80</text>
<line x1="314" y1="451.5" x2="317.2" y2="451.5" stroke="#000" stroke-width="1.3"/>
<text x="311.6" y="454.9" font-size="10" text-anchor="end" fill="#000" font-weight="bold">100</text>
<text x="286.3" y="433.3" font-size="17" text-anchor="start" fill="#000" font-weight="bold">(f)</text>
<text x="0" y="0" font-size="12" font-weight="bold" text-anchor="middle" transform="translate(290.2 521) rotate(-90)">Efficiency (%)</text>
<text x="430.5" y="619.5" font-size="11.5" text-anchor="middle" fill="#000" font-weight="bold" letter-spacing="0.1">Catalyst Usage</text>
<text x="0" y="0" font-size="8.2" font-weight="bold" text-anchor="middle" transform="translate(347.6 578.6) rotate(-90)">3.03 %</text>
<text x="0" y="0" font-size="8.2" font-weight="bold" text-anchor="middle" transform="translate(386.6 499.6) rotate(-90)">76.96 %</text>
<text x="0" y="0" font-size="8.2" font-weight="bold" text-anchor="middle" transform="translate(442.5 482.9) rotate(-90)">89.88 %</text>
<text x="0" y="0" font-size="8.2" font-weight="bold" text-anchor="middle" transform="translate(499.3 479.0) rotate(-90)">92.71 %</text>
<text x="0" y="0" font-size="7.2" font-weight="bold" fill="#9a9a20" transform="translate(328.6 596.0) rotate(-90)">Photolysis</text>
<text x="0" y="0" font-size="7.2" font-weight="bold" fill="#9a30ff" transform="translate(383.2 595.0) rotate(-90)">CeO<tspan dy="2.2" font-size="6.5">2</tspan></text>
<text x="0" y="0" font-size="7.2" font-weight="bold" fill="#2a9a2a" transform="translate(440.0 596.0) rotate(-90)">MnO<tspan dy="2.2" font-size="6.5">2</tspan></text>
<text x="0" y="0" font-size="7.2" font-weight="bold" fill="#ff2a9a" transform="translate(497.4 596.8) rotate(-90)">Ce@MnO<tspan dy="2.2" font-size="6.5">2</tspan><tspan dy="-2.2"> (60:40)</tspan></text>
<text x="325.4" y="486" font-size="10.6" text-anchor="start" fill="#ff1a1a" font-weight="bold">Acebutolol</text>
<line x1="330.8" y1="461.5" x2="336.3" y2="456.5" stroke="#3a3a3a" stroke-width="0.9"/>
<line x1="336.3" y1="456.5" x2="344.2" y2="461.5" stroke="#3a3a3a" stroke-width="0.9"/>
<line x1="344.2" y1="461.5" x2="351.5" y2="456.5" stroke="#3a3a3a" stroke-width="0.9"/>
<line x1="351.5" y1="456.5" x2="351.5" y2="450.3" stroke="#3a3a3a" stroke-width="0.9"/>
<line x1="352.7" y1="456" x2="352.7" y2="450.3" stroke="#3a3a3a" stroke-width="0.9"/>
<line x1="351.5" y1="456.5" x2="357.6" y2="460.3" stroke="#3a3a3a" stroke-width="0.9"/>
<line x1="361.6" y1="459.8" x2="366.6" y2="456.5" stroke="#3a3a3a" stroke-width="0.9"/>
<line x1="366.6" y1="456.5" x2="366.6" y2="448.4" stroke="#3a3a3a" stroke-width="0.9"/>
<line x1="366.6" y1="448.4" x2="373.6" y2="444.3" stroke="#3a3a3a" stroke-width="0.9"/>
<line x1="373.6" y1="444.3" x2="381" y2="448.4" stroke="#3a3a3a" stroke-width="0.9"/>
<line x1="381" y1="448.4" x2="381" y2="456.5" stroke="#3a3a3a" stroke-width="0.9"/>
<line x1="381" y1="456.5" x2="373.6" y2="460.6" stroke="#3a3a3a" stroke-width="0.9"/>
<line x1="373.6" y1="460.6" x2="366.6" y2="456.5" stroke="#3a3a3a" stroke-width="0.9"/>
<line x1="368.2" y1="449.4" x2="373.6" y2="446.2" stroke="#3a3a3a" stroke-width="0.9"/>
<line x1="379.4" y1="455.6" x2="373.9" y2="458.8" stroke="#3a3a3a" stroke-width="0.9"/>
<line x1="379.3" y1="449.5" x2="379.3" y2="455.3" stroke="#3a3a3a" stroke-width="0.9"/>
<line x1="381" y1="448.4" x2="386.3" y2="445.3" stroke="#3a3a3a" stroke-width="0.9"/>
<line x1="390.4" y1="445.3" x2="396.5" y2="448.4" stroke="#3a3a3a" stroke-width="0.9"/>
<line x1="396.5" y1="448.4" x2="404.7" y2="444.3" stroke="#3a3a3a" stroke-width="0.9"/>
<line x1="404.7" y1="444.3" x2="404.7" y2="439.2" stroke="#3a3a3a" stroke-width="0.9"/>
<line x1="404.7" y1="444.3" x2="412.1" y2="448.4" stroke="#3a3a3a" stroke-width="0.9"/>
<line x1="412.1" y1="448.4" x2="417.5" y2="445.4" stroke="#3a3a3a" stroke-width="0.9"/>
<line x1="420.8" y1="445.4" x2="426" y2="448.4" stroke="#3a3a3a" stroke-width="0.9"/>
<line x1="426" y1="448.4" x2="432.3" y2="444.9" stroke="#3a3a3a" stroke-width="0.9"/>
<line x1="426" y1="448.4" x2="426" y2="454.6" stroke="#3a3a3a" stroke-width="0.9"/>
<line x1="381" y1="456.5" x2="386.7" y2="460.6" stroke="#3a3a3a" stroke-width="0.9"/>
<line x1="386.7" y1="460.6" x2="393.8" y2="456.8" stroke="#3a3a3a" stroke-width="0.9"/>
<line x1="386.7" y1="460.6" x2="386.7" y2="466.6" stroke="#3a3a3a" stroke-width="0.9"/>
<line x1="387.9" y1="460.9" x2="387.9" y2="466.6" stroke="#3a3a3a" stroke-width="0.9"/>
<text x="321.3" y="463.6" font-size="5.2" font-family='"Liberation Sans", sans-serif' fill="#3a3a3a">H<tspan font-size="3.6" dy="1">3</tspan><tspan dy="-1">C</tspan></text>
<text x="349.8" y="450.2" font-size="5.2" font-family='"Liberation Sans", sans-serif' fill="#3a3a3a">O</text>
<text x="357.7" y="463.2" font-size="5.2" font-family='"Liberation Sans", sans-serif' fill="#3a3a3a">N</text>
<text x="357.9" y="468.2" font-size="5.2" font-family='"Liberation Sans", sans-serif' fill="#3a3a3a">H</text>
<text x="386.4" y="446.8" font-size="5.2" font-family='"Liberation Sans", sans-serif' fill="#3a3a3a">O</text>
<text x="403.2" y="438.6" font-size="5.2" font-family='"Liberation Sans", sans-serif' fill="#3a3a3a">OH</text>
<text x="417.5" y="447.0" font-size="5.2" font-family='"Liberation Sans", sans-serif' fill="#3a3a3a">N</text>
<text x="417.8" y="441.2" font-size="5.2" font-family='"Liberation Sans", sans-serif' fill="#3a3a3a">H</text>
<text x="432.6" y="446.6" font-size="5.2" font-family='"Liberation Sans", sans-serif' fill="#3a3a3a">CH<tspan font-size="3.6" dy="1">3</tspan></text>
<text x="426.0" y="459.6" font-size="5.2" font-family='"Liberation Sans", sans-serif' fill="#3a3a3a">CH<tspan font-size="3.6" dy="1">3</tspan></text>
<text x="394.0" y="458.6" font-size="5.2" font-family='"Liberation Sans", sans-serif' fill="#3a3a3a">CH<tspan font-size="3.6" dy="1">3</tspan></text>
<text x="385.0" y="471.8" font-size="5.2" font-family='"Liberation Sans", sans-serif' fill="#3a3a3a">O</text>
</svg></body></html>
